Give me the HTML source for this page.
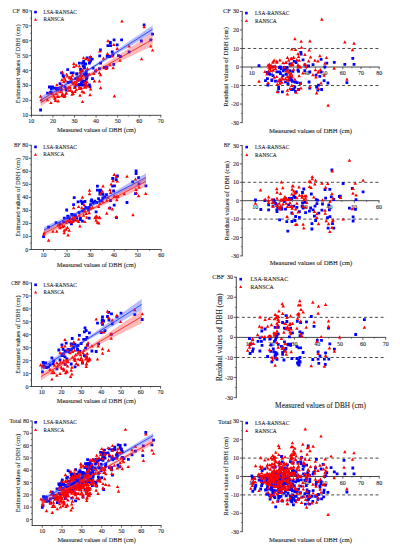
<!DOCTYPE html>
<html><head><meta charset="utf-8"><style>
html,body{margin:0;padding:0;background:#fff;}
svg{display:block;}
text{font-family:"Liberation Serif", serif;fill:#262626;stroke:#262626;stroke-width:0.1px;}
</style></head><body>
<svg width="400" height="550" viewBox="0 0 400 550">
<rect width="400" height="550" fill="#fff"/>
<line x1="40.75" y1="100.25" x2="152.60" y2="29.20" stroke="#2035ff" stroke-width="0.9" /><line x1="40.75" y1="102.50" x2="152.60" y2="39.40" stroke="#ff1a1a" stroke-width="0.9" /><path fill="#0000ff" d="M39.2 108.6h2.8v2.8h-2.8zM66.3 68.3h2.8v2.8h-2.8zM60.2 71.5h2.8v2.8h-2.8zM61.7 74.2h2.8v2.8h-2.8zM62.4 75.5h2.8v2.8h-2.8zM69.8 71.5h2.8v2.8h-2.8zM71.7 71.5h2.8v2.8h-2.8zM75.5 72.3h2.8v2.8h-2.8zM78.0 61.7h2.8v2.8h-2.8zM79.2 68.0h2.8v2.8h-2.8zM49.5 85.5h2.8v2.8h-2.8zM51.1 85.5h2.8v2.8h-2.8zM53.0 86.7h2.8v2.8h-2.8zM54.9 87.1h2.8v2.8h-2.8zM56.7 88.0h2.8v2.8h-2.8zM46.1 91.7h2.8v2.8h-2.8zM49.2 90.8h2.8v2.8h-2.8zM63.6 85.5h2.8v2.8h-2.8zM64.8 88.6h2.8v2.8h-2.8zM66.7 81.1h2.8v2.8h-2.8zM69.2 80.5h2.8v2.8h-2.8zM72.3 82.3h2.8v2.8h-2.8zM73.6 85.5h2.8v2.8h-2.8zM76.1 83.6h2.8v2.8h-2.8zM78.0 83.0h2.8v2.8h-2.8zM74.2 77.3h2.8v2.8h-2.8zM76.7 78.6h2.8v2.8h-2.8zM58.6 82.3h2.8v2.8h-2.8zM56.1 88.6h2.8v2.8h-2.8zM59.9 88.6h2.8v2.8h-2.8zM79.2 78.6h2.8v2.8h-2.8zM89.2 59.2h2.8v2.8h-2.8zM84.2 62.4h2.8v2.8h-2.8zM81.1 61.7h2.8v2.8h-2.8zM81.7 64.8h2.8v2.8h-2.8zM83.0 66.1h2.8v2.8h-2.8zM88.0 61.7h2.8v2.8h-2.8zM99.2 61.7h2.8v2.8h-2.8zM103.0 66.1h2.8v2.8h-2.8zM105.5 66.1h2.8v2.8h-2.8zM112.3 63.0h2.8v2.8h-2.8zM98.0 67.3h2.8v2.8h-2.8zM91.7 66.7h2.8v2.8h-2.8zM94.2 69.8h2.8v2.8h-2.8zM84.8 71.7h2.8v2.8h-2.8zM83.0 73.0h2.8v2.8h-2.8zM86.1 73.6h2.8v2.8h-2.8zM79.8 68.6h2.8v2.8h-2.8zM91.1 77.3h2.8v2.8h-2.8zM82.3 80.5h2.8v2.8h-2.8zM80.5 83.6h2.8v2.8h-2.8zM88.0 83.6h2.8v2.8h-2.8zM88.6 85.5h2.8v2.8h-2.8zM85.5 76.1h2.8v2.8h-2.8zM83.6 83.6h2.8v2.8h-2.8zM112.7 38.4h2.8v2.8h-2.8zM120.2 38.4h2.8v2.8h-2.8zM109.0 41.1h2.8v2.8h-2.8zM106.5 44.2h2.8v2.8h-2.8zM109.2 44.2h2.8v2.8h-2.8zM115.8 43.4h2.8v2.8h-2.8zM99.0 48.6h2.8v2.8h-2.8zM110.8 50.5h2.8v2.8h-2.8zM98.3 54.5h2.8v2.8h-2.8zM105.8 54.9h2.8v2.8h-2.8zM111.5 53.6h2.8v2.8h-2.8zM127.7 50.5h2.8v2.8h-2.8zM117.1 54.2h2.8v2.8h-2.8zM119.0 55.1h2.8v2.8h-2.8zM85.8 56.4h2.8v2.8h-2.8zM89.0 55.9h2.8v2.8h-2.8zM108.3 55.1h2.8v2.8h-2.8zM142.7 23.4h2.8v2.8h-2.8zM151.1 32.7h2.8v2.8h-2.8zM140.0 39.6h2.8v2.8h-2.8zM149.4 38.5h2.8v2.8h-2.8zM75.2 72.7h2.8v2.8h-2.8zM80.6 69.4h2.8v2.8h-2.8zM48.0 85.6h2.8v2.8h-2.8zM50.0 87.5h2.8v2.8h-2.8zM56.4 87.6h2.8v2.8h-2.8zM55.7 88.8h2.8v2.8h-2.8zM50.0 91.6h2.8v2.8h-2.8zM64.8 87.6h2.8v2.8h-2.8zM74.1 81.4h2.8v2.8h-2.8zM79.9 82.1h2.8v2.8h-2.8zM76.0 76.5h2.8v2.8h-2.8zM76.4 76.7h2.8v2.8h-2.8zM57.6 87.1h2.8v2.8h-2.8zM59.5 86.6h2.8v2.8h-2.8zM80.6 79.3h2.8v2.8h-2.8zM90.8 57.7h2.8v2.8h-2.8zM83.6 62.8h2.8v2.8h-2.8zM82.3 59.9h2.8v2.8h-2.8zM83.1 66.8h2.8v2.8h-2.8zM82.6 65.0h2.8v2.8h-2.8zM88.5 60.3h2.8v2.8h-2.8zM84.7 70.2h2.8v2.8h-2.8zM84.4 74.2h2.8v2.8h-2.8zM79.2 68.3h2.8v2.8h-2.8zM83.3 79.8h2.8v2.8h-2.8zM78.7 83.4h2.8v2.8h-2.8zM85.0 77.7h2.8v2.8h-2.8zM82.5 83.7h2.8v2.8h-2.8z"/><path fill="#ff0000" d="M40.6 94.6l1.75 3.15h-3.50zM41.2 98.0l1.75 3.15h-3.50zM50.9 100.9l1.75 3.15h-3.50zM47.5 98.0l1.75 3.15h-3.50zM49.4 91.1l1.75 3.15h-3.50zM52.5 91.8l1.75 3.15h-3.50zM53.8 94.3l1.75 3.15h-3.50zM55.0 97.0l1.75 3.15h-3.50zM58.1 99.3l1.75 3.15h-3.50zM56.2 91.8l1.75 3.15h-3.50zM58.8 94.9l1.75 3.15h-3.50zM60.6 89.9l1.75 3.15h-3.50zM62.5 91.8l1.75 3.15h-3.50zM64.4 94.9l1.75 3.15h-3.50zM65.0 93.6l1.75 3.15h-3.50zM66.2 91.1l1.75 3.15h-3.50zM68.8 88.6l1.75 3.15h-3.50zM70.0 85.5l1.75 3.15h-3.50zM72.5 89.9l1.75 3.15h-3.50zM73.1 91.8l1.75 3.15h-3.50zM75.0 89.9l1.75 3.15h-3.50zM76.2 88.0l1.75 3.15h-3.50zM79.4 84.9l1.75 3.15h-3.50zM80.6 86.8l1.75 3.15h-3.50zM80.0 93.6l1.75 3.15h-3.50zM61.9 78.0l1.75 3.15h-3.50zM63.8 79.9l1.75 3.15h-3.50zM65.6 78.6l1.75 3.15h-3.50zM62.5 70.5l1.75 3.15h-3.50zM67.5 74.3l1.75 3.15h-3.50zM69.4 76.1l1.75 3.15h-3.50zM71.2 76.8l1.75 3.15h-3.50zM72.5 73.6l1.75 3.15h-3.50zM72.5 80.5l1.75 3.15h-3.50zM74.4 82.4l1.75 3.15h-3.50zM76.2 79.9l1.75 3.15h-3.50zM77.5 75.5l1.75 3.15h-3.50zM78.8 77.4l1.75 3.15h-3.50zM80.0 70.5l1.75 3.15h-3.50zM80.6 73.0l1.75 3.15h-3.50zM73.8 61.8l1.75 3.15h-3.50zM76.2 63.6l1.75 3.15h-3.50zM73.8 64.9l1.75 3.15h-3.50zM79.4 64.3l1.75 3.15h-3.50zM60.0 85.5l1.75 3.15h-3.50zM61.9 83.0l1.75 3.15h-3.50zM56.9 83.0l1.75 3.15h-3.50zM88.8 58.0l1.75 3.15h-3.50zM120.0 58.6l1.75 3.15h-3.50zM113.1 66.1l1.75 3.15h-3.50zM106.2 66.8l1.75 3.15h-3.50zM110.0 63.0l1.75 3.15h-3.50zM99.4 71.1l1.75 3.15h-3.50zM100.6 73.0l1.75 3.15h-3.50zM96.2 68.0l1.75 3.15h-3.50zM93.8 71.8l1.75 3.15h-3.50zM87.5 66.8l1.75 3.15h-3.50zM89.4 72.4l1.75 3.15h-3.50zM81.2 70.5l1.75 3.15h-3.50zM82.5 74.3l1.75 3.15h-3.50zM81.2 76.1l1.75 3.15h-3.50zM86.9 79.9l1.75 3.15h-3.50zM94.4 79.3l1.75 3.15h-3.50zM99.4 79.3l1.75 3.15h-3.50zM85.6 83.0l1.75 3.15h-3.50zM87.5 84.3l1.75 3.15h-3.50zM85.6 85.5l1.75 3.15h-3.50zM90.6 87.4l1.75 3.15h-3.50zM81.2 86.1l1.75 3.15h-3.50zM100.6 86.1l1.75 3.15h-3.50zM83.8 90.5l1.75 3.15h-3.50zM90.0 93.0l1.75 3.15h-3.50zM114.4 94.3l1.75 3.15h-3.50zM82.5 99.9l1.75 3.15h-3.50zM107.9 39.0l1.75 3.15h-3.50zM113.8 42.8l1.75 3.15h-3.50zM117.2 46.8l1.75 3.15h-3.50zM99.8 49.3l1.75 3.15h-3.50zM107.5 51.8l1.75 3.15h-3.50zM129.1 44.3l1.75 3.15h-3.50zM90.4 54.9l1.75 3.15h-3.50zM83.5 56.1l1.75 3.15h-3.50zM86.0 57.0l1.75 3.15h-3.50zM103.5 56.5l1.75 3.15h-3.50zM112.2 54.3l1.75 3.15h-3.50zM144.1 25.0l1.75 3.15h-3.50zM150.8 44.4l1.75 3.15h-3.50zM152.5 48.4l1.75 3.15h-3.50zM141.6 57.2l1.75 3.15h-3.50zM121.9 19.4l1.75 3.15h-3.50zM54.9 96.1l1.75 3.15h-3.50zM55.6 98.8l1.75 3.15h-3.50zM57.3 94.6l1.75 3.15h-3.50zM61.7 93.8l1.75 3.15h-3.50zM63.1 94.1l1.75 3.15h-3.50zM65.9 91.7l1.75 3.15h-3.50zM68.2 85.9l1.75 3.15h-3.50zM70.7 88.6l1.75 3.15h-3.50zM72.1 92.6l1.75 3.15h-3.50zM74.6 85.9l1.75 3.15h-3.50zM64.4 76.5l1.75 3.15h-3.50zM66.6 72.7l1.75 3.15h-3.50zM69.8 75.9l1.75 3.15h-3.50zM71.9 77.0l1.75 3.15h-3.50zM71.0 75.5l1.75 3.15h-3.50zM76.6 82.8l1.75 3.15h-3.50zM74.6 80.4l1.75 3.15h-3.50zM77.2 77.7l1.75 3.15h-3.50zM81.7 68.4l1.75 3.15h-3.50zM79.8 74.1l1.75 3.15h-3.50zM82.4 68.6l1.75 3.15h-3.50zM80.8 74.1l1.75 3.15h-3.50zM79.4 77.2l1.75 3.15h-3.50zM84.5 81.2l1.75 3.15h-3.50zM86.6 82.3l1.75 3.15h-3.50zM84.4 85.6l1.75 3.15h-3.50zM79.2 86.9l1.75 3.15h-3.50zM82.1 89.7l1.75 3.15h-3.50z"/><path d="M40.75 96.65L45.41 93.96L50.07 91.26L54.73 88.56L59.39 85.85L64.05 83.13L68.71 80.40L73.37 77.65L78.03 74.87L82.69 72.06L87.35 69.20L92.01 66.28L96.67 63.31L101.34 60.27L106.00 57.19L110.66 54.06L115.32 50.91L119.98 47.73L124.64 44.54L129.30 41.33L133.96 38.12L138.62 34.89L143.28 31.67L147.94 28.43L152.60 25.20L152.60 33.20L147.94 35.89L143.28 38.58L138.62 41.27L133.96 43.97L129.30 46.67L124.64 49.39L119.98 52.11L115.32 54.86L110.66 57.62L106.00 60.42L101.34 63.25L96.67 66.14L92.01 69.09L87.35 72.09L82.69 75.16L78.03 78.27L73.37 81.41L68.71 84.58L64.05 87.76L59.39 90.97L54.73 94.18L50.07 97.40L45.41 100.62L40.75 103.85Z" fill="rgba(60,75,255,0.38)"/><path d="M40.75 98.70L45.41 96.43L50.07 94.16L54.73 91.87L59.39 89.56L64.05 87.22L68.71 84.83L73.37 82.39L78.03 79.85L82.69 77.22L87.35 74.49L92.01 71.68L96.67 68.81L101.34 65.89L106.00 62.94L110.66 59.97L115.32 56.99L119.98 53.99L124.64 50.99L129.30 47.99L133.96 44.97L138.62 41.96L143.28 38.94L147.94 35.92L152.60 32.90L152.60 45.90L147.94 48.14L143.28 50.37L138.62 52.62L133.96 54.86L129.30 57.11L124.64 59.36L119.98 61.61L115.32 63.88L110.66 66.15L106.00 68.44L101.34 70.75L96.67 73.09L92.01 75.48L87.35 77.92L82.69 80.45L78.03 83.08L73.37 85.81L68.71 88.62L64.05 91.49L59.39 94.41L54.73 97.36L50.07 100.32L45.41 103.31L40.75 106.30Z" fill="rgba(255,60,60,0.36)"/><line x1="31.45" y1="10.50" x2="31.45" y2="115.75" stroke="#333" stroke-width="0.9" /><line x1="31.00" y1="115.30" x2="161.20" y2="115.30" stroke="#333" stroke-width="0.9" /><line x1="29.25" y1="115.30" x2="31.45" y2="115.30" stroke="#333" stroke-width="0.8" /><text x="28.35" y="117.30" font-size="6.0" text-anchor="end" >10</text><line x1="29.25" y1="100.39" x2="31.45" y2="100.39" stroke="#333" stroke-width="0.8" /><text x="28.35" y="102.39" font-size="6.0" text-anchor="end" >20</text><line x1="29.25" y1="85.47" x2="31.45" y2="85.47" stroke="#333" stroke-width="0.8" /><text x="28.35" y="87.47" font-size="6.0" text-anchor="end" >30</text><line x1="29.25" y1="70.56" x2="31.45" y2="70.56" stroke="#333" stroke-width="0.8" /><text x="28.35" y="72.56" font-size="6.0" text-anchor="end" >40</text><line x1="29.25" y1="55.64" x2="31.45" y2="55.64" stroke="#333" stroke-width="0.8" /><text x="28.35" y="57.64" font-size="6.0" text-anchor="end" >50</text><line x1="29.25" y1="40.73" x2="31.45" y2="40.73" stroke="#333" stroke-width="0.8" /><text x="28.35" y="42.73" font-size="6.0" text-anchor="end" >60</text><line x1="29.25" y1="25.81" x2="31.45" y2="25.81" stroke="#333" stroke-width="0.8" /><text x="28.35" y="27.81" font-size="6.0" text-anchor="end" >70</text><line x1="29.25" y1="10.90" x2="31.45" y2="10.90" stroke="#333" stroke-width="0.8" /><text x="28.35" y="12.90" font-size="6.0" text-anchor="end" >80</text><line x1="30.15" y1="107.84" x2="31.45" y2="107.84" stroke="#333" stroke-width="0.6" /><line x1="30.15" y1="92.93" x2="31.45" y2="92.93" stroke="#333" stroke-width="0.6" /><line x1="30.15" y1="78.01" x2="31.45" y2="78.01" stroke="#333" stroke-width="0.6" /><line x1="30.15" y1="63.10" x2="31.45" y2="63.10" stroke="#333" stroke-width="0.6" /><line x1="30.15" y1="48.19" x2="31.45" y2="48.19" stroke="#333" stroke-width="0.6" /><line x1="30.15" y1="33.27" x2="31.45" y2="33.27" stroke="#333" stroke-width="0.6" /><line x1="30.15" y1="18.36" x2="31.45" y2="18.36" stroke="#333" stroke-width="0.6" /><line x1="31.35" y1="115.30" x2="31.35" y2="117.50" stroke="#333" stroke-width="0.8" /><text x="31.35" y="122.70" font-size="6.0" text-anchor="middle" >10</text><line x1="52.93" y1="115.30" x2="52.93" y2="117.50" stroke="#333" stroke-width="0.8" /><text x="52.93" y="122.70" font-size="6.0" text-anchor="middle" >20</text><line x1="74.50" y1="115.30" x2="74.50" y2="117.50" stroke="#333" stroke-width="0.8" /><text x="74.50" y="122.70" font-size="6.0" text-anchor="middle" >30</text><line x1="96.08" y1="115.30" x2="96.08" y2="117.50" stroke="#333" stroke-width="0.8" /><text x="96.08" y="122.70" font-size="6.0" text-anchor="middle" >40</text><line x1="117.65" y1="115.30" x2="117.65" y2="117.50" stroke="#333" stroke-width="0.8" /><text x="117.65" y="122.70" font-size="6.0" text-anchor="middle" >50</text><line x1="139.23" y1="115.30" x2="139.23" y2="117.50" stroke="#333" stroke-width="0.8" /><text x="139.23" y="122.70" font-size="6.0" text-anchor="middle" >60</text><line x1="160.80" y1="115.30" x2="160.80" y2="117.50" stroke="#333" stroke-width="0.8" /><text x="160.80" y="122.70" font-size="6.0" text-anchor="middle" >70</text><line x1="42.14" y1="115.30" x2="42.14" y2="116.60" stroke="#333" stroke-width="0.6" /><line x1="63.71" y1="115.30" x2="63.71" y2="116.60" stroke="#333" stroke-width="0.6" /><line x1="85.29" y1="115.30" x2="85.29" y2="116.60" stroke="#333" stroke-width="0.6" /><line x1="106.86" y1="115.30" x2="106.86" y2="116.60" stroke="#333" stroke-width="0.6" /><line x1="128.44" y1="115.30" x2="128.44" y2="116.60" stroke="#333" stroke-width="0.6" /><line x1="150.01" y1="115.30" x2="150.01" y2="116.60" stroke="#333" stroke-width="0.6" /><text x="0" y="0" font-size="6.6" text-anchor="middle" textLength="78.8" lengthAdjust="spacingAndGlyphs" transform="translate(19.7,63.75) rotate(-90)">Estimated values of DBH (cm)</text><text x="96.40" y="132.20" font-size="7.1" text-anchor="middle" textLength="79" lengthAdjust="spacingAndGlyphs" >Measured values of DBH (cm)</text><text x="19.90" y="13.30" font-size="6.4" text-anchor="end" textLength="7.4" lengthAdjust="spacingAndGlyphs" >CF</text><path fill="#0000ff" d="M34.2 10.8h2.6v2.6h-2.6z"/><path fill="#ff0000" d="M35.5 17.9l1.55 2.79h-3.10z"/><text x="43.50" y="13.95" font-size="5.3" text-anchor="start" textLength="33.3" lengthAdjust="spacingAndGlyphs" >LSA-RANSAC</text><text x="43.50" y="21.45" font-size="5.3" text-anchor="start" textLength="20.7" lengthAdjust="spacingAndGlyphs" >RANSCA</text><line x1="242.20" y1="48.47" x2="379.80" y2="48.47" stroke="#4a4a4a" stroke-width="1.0" stroke-dasharray="3 2.55"/><line x1="242.20" y1="85.53" x2="379.80" y2="85.53" stroke="#4a4a4a" stroke-width="1.0" stroke-dasharray="3 2.55"/><line x1="242.20" y1="11.00" x2="242.20" y2="123.00" stroke="#333" stroke-width="0.9" /><line x1="242.20" y1="67.00" x2="379.60" y2="67.00" stroke="#333" stroke-width="0.9" /><line x1="240.00" y1="11.40" x2="242.20" y2="11.40" stroke="#333" stroke-width="0.8" /><text x="239.00" y="13.45" font-size="6.0" text-anchor="end" >30</text><line x1="240.00" y1="29.93" x2="242.20" y2="29.93" stroke="#333" stroke-width="0.8" /><text x="239.00" y="31.98" font-size="6.0" text-anchor="end" >20</text><line x1="240.00" y1="48.47" x2="242.20" y2="48.47" stroke="#333" stroke-width="0.8" /><text x="239.00" y="50.52" font-size="6.0" text-anchor="end" >10</text><line x1="240.00" y1="67.00" x2="242.20" y2="67.00" stroke="#333" stroke-width="0.8" /><text x="239.00" y="69.05" font-size="6.0" text-anchor="end" >0</text><line x1="240.00" y1="85.53" x2="242.20" y2="85.53" stroke="#333" stroke-width="0.8" /><text x="239.00" y="87.58" font-size="6.0" text-anchor="end" >-10</text><line x1="240.00" y1="104.07" x2="242.20" y2="104.07" stroke="#333" stroke-width="0.8" /><text x="239.00" y="106.12" font-size="6.0" text-anchor="end" >-20</text><line x1="240.00" y1="122.60" x2="242.20" y2="122.60" stroke="#333" stroke-width="0.8" /><text x="239.00" y="124.65" font-size="6.0" text-anchor="end" >-30</text><line x1="240.90" y1="20.67" x2="242.20" y2="20.67" stroke="#333" stroke-width="0.6" /><line x1="240.90" y1="39.20" x2="242.20" y2="39.20" stroke="#333" stroke-width="0.6" /><line x1="240.90" y1="57.73" x2="242.20" y2="57.73" stroke="#333" stroke-width="0.6" /><line x1="240.90" y1="76.27" x2="242.20" y2="76.27" stroke="#333" stroke-width="0.6" /><line x1="240.90" y1="94.80" x2="242.20" y2="94.80" stroke="#333" stroke-width="0.6" /><line x1="240.90" y1="113.33" x2="242.20" y2="113.33" stroke="#333" stroke-width="0.6" /><line x1="251.80" y1="67.00" x2="251.80" y2="69.20" stroke="#333" stroke-width="0.8" /><text x="251.80" y="75.10" font-size="6.0" text-anchor="middle" >10</text><line x1="270.00" y1="67.00" x2="270.00" y2="69.20" stroke="#333" stroke-width="0.8" /><text x="270.00" y="75.10" font-size="6.0" text-anchor="middle" >20</text><line x1="288.20" y1="67.00" x2="288.20" y2="69.20" stroke="#333" stroke-width="0.8" /><text x="288.20" y="75.10" font-size="6.0" text-anchor="middle" >30</text><line x1="306.40" y1="67.00" x2="306.40" y2="69.20" stroke="#333" stroke-width="0.8" /><text x="306.40" y="75.10" font-size="6.0" text-anchor="middle" >40</text><line x1="324.60" y1="67.00" x2="324.60" y2="69.20" stroke="#333" stroke-width="0.8" /><text x="324.60" y="75.10" font-size="6.0" text-anchor="middle" >50</text><line x1="342.80" y1="67.00" x2="342.80" y2="69.20" stroke="#333" stroke-width="0.8" /><text x="342.80" y="75.10" font-size="6.0" text-anchor="middle" >60</text><line x1="361.00" y1="67.00" x2="361.00" y2="69.20" stroke="#333" stroke-width="0.8" /><text x="361.00" y="75.10" font-size="6.0" text-anchor="middle" >70</text><line x1="379.20" y1="67.00" x2="379.20" y2="69.20" stroke="#333" stroke-width="0.8" /><text x="379.20" y="75.10" font-size="6.0" text-anchor="middle" >80</text><line x1="260.90" y1="67.00" x2="260.90" y2="68.30" stroke="#333" stroke-width="0.6" /><line x1="279.10" y1="67.00" x2="279.10" y2="68.30" stroke="#333" stroke-width="0.6" /><line x1="297.30" y1="67.00" x2="297.30" y2="68.30" stroke="#333" stroke-width="0.6" /><line x1="315.50" y1="67.00" x2="315.50" y2="68.30" stroke="#333" stroke-width="0.6" /><line x1="333.70" y1="67.00" x2="333.70" y2="68.30" stroke="#333" stroke-width="0.6" /><line x1="351.90" y1="67.00" x2="351.90" y2="68.30" stroke="#333" stroke-width="0.6" /><line x1="370.10" y1="67.00" x2="370.10" y2="68.30" stroke="#333" stroke-width="0.6" /><path fill="#0000ff" d="M257.6 64.2h2.8v2.8h-2.8zM271.6 65.5h2.8v2.8h-2.8zM279.1 65.5h2.8v2.8h-2.8zM282.9 66.1h2.8v2.8h-2.8zM285.4 66.1h2.8v2.8h-2.8zM288.5 62.6h2.8v2.8h-2.8zM266.0 77.3h2.8v2.8h-2.8zM264.1 79.2h2.8v2.8h-2.8zM271.6 74.2h2.8v2.8h-2.8zM270.4 78.6h2.8v2.8h-2.8zM275.4 70.5h2.8v2.8h-2.8zM279.1 72.3h2.8v2.8h-2.8zM281.6 74.2h2.8v2.8h-2.8zM284.7 73.0h2.8v2.8h-2.8zM277.9 66.1h2.8v2.8h-2.8zM279.7 67.3h2.8v2.8h-2.8zM285.4 67.3h2.8v2.8h-2.8zM288.5 69.2h2.8v2.8h-2.8zM289.1 76.1h2.8v2.8h-2.8zM290.4 78.6h2.8v2.8h-2.8zM279.1 79.2h2.8v2.8h-2.8zM274.1 79.8h2.8v2.8h-2.8zM284.1 80.5h2.8v2.8h-2.8zM286.6 82.3h2.8v2.8h-2.8zM266.6 83.6h2.8v2.8h-2.8zM277.2 85.5h2.8v2.8h-2.8zM277.2 87.3h2.8v2.8h-2.8zM276.6 90.5h2.8v2.8h-2.8zM281.0 90.5h2.8v2.8h-2.8zM289.7 88.0h2.8v2.8h-2.8zM272.9 65.5h2.8v2.8h-2.8zM268.5 73.0h2.8v2.8h-2.8zM266.0 71.1h2.8v2.8h-2.8zM299.4 50.9h2.8v2.8h-2.8zM299.7 52.6h2.8v2.8h-2.8zM301.6 58.4h2.8v2.8h-2.8zM319.7 58.0h2.8v2.8h-2.8zM311.6 63.2h2.8v2.8h-2.8zM307.2 64.8h2.8v2.8h-2.8zM325.4 61.7h2.8v2.8h-2.8zM332.9 60.9h2.8v2.8h-2.8zM323.5 65.5h2.8v2.8h-2.8zM292.9 59.9h2.8v2.8h-2.8zM294.7 61.1h2.8v2.8h-2.8zM297.2 65.5h2.8v2.8h-2.8zM303.5 63.6h2.8v2.8h-2.8zM343.4 63.0h2.8v2.8h-2.8zM351.4 57.0h2.8v2.8h-2.8zM352.6 63.0h2.8v2.8h-2.8zM291.5 70.0h2.8v2.8h-2.8zM296.5 68.7h2.8v2.8h-2.8zM297.1 70.0h2.8v2.8h-2.8zM303.4 69.3h2.8v2.8h-2.8zM308.4 70.6h2.8v2.8h-2.8zM314.6 73.7h2.8v2.8h-2.8zM318.4 75.0h2.8v2.8h-2.8zM319.6 70.6h2.8v2.8h-2.8zM323.4 65.6h2.8v2.8h-2.8zM322.7 79.3h2.8v2.8h-2.8zM326.5 81.6h2.8v2.8h-2.8zM307.7 80.6h2.8v2.8h-2.8zM290.9 80.0h2.8v2.8h-2.8zM293.4 80.6h2.8v2.8h-2.8zM295.9 81.2h2.8v2.8h-2.8zM299.0 81.8h2.8v2.8h-2.8zM293.4 85.6h2.8v2.8h-2.8zM290.9 88.1h2.8v2.8h-2.8zM297.1 88.1h2.8v2.8h-2.8zM308.4 86.8h2.8v2.8h-2.8zM315.2 85.6h2.8v2.8h-2.8zM316.5 88.7h2.8v2.8h-2.8zM320.2 88.1h2.8v2.8h-2.8zM317.1 83.7h2.8v2.8h-2.8zM294.0 90.0h2.8v2.8h-2.8zM345.5 81.2h2.8v2.8h-2.8zM283.1 68.0h2.8v2.8h-2.8zM285.4 66.5h2.8v2.8h-2.8zM270.4 79.2h2.8v2.8h-2.8zM278.2 70.5h2.8v2.8h-2.8zM281.8 69.4h2.8v2.8h-2.8zM288.2 78.7h2.8v2.8h-2.8zM267.1 71.9h2.8v2.8h-2.8zM307.0 64.6h2.8v2.8h-2.8zM294.0 80.6h2.8v2.8h-2.8zM292.4 87.8h2.8v2.8h-2.8z"/><path fill="#ff0000" d="M291.8 47.4l1.75 3.15h-3.50zM287.4 55.8l1.75 3.15h-3.50zM291.1 56.5l1.75 3.15h-3.50zM279.9 58.3l1.75 3.15h-3.50zM274.2 58.6l1.75 3.15h-3.50zM273.0 60.5l1.75 3.15h-3.50zM276.8 60.5l1.75 3.15h-3.50zM283.0 61.1l1.75 3.15h-3.50zM286.1 60.5l1.75 3.15h-3.50zM268.0 63.6l1.75 3.15h-3.50zM271.1 63.6l1.75 3.15h-3.50zM269.9 64.9l1.75 3.15h-3.50zM275.5 64.3l1.75 3.15h-3.50zM288.6 58.6l1.75 3.15h-3.50zM292.4 61.8l1.75 3.15h-3.50zM259.0 79.5l1.75 3.15h-3.50zM264.9 69.9l1.75 3.15h-3.50zM266.8 72.4l1.75 3.15h-3.50zM268.6 69.3l1.75 3.15h-3.50zM269.9 66.8l1.75 3.15h-3.50zM271.8 65.5l1.75 3.15h-3.50zM273.0 68.6l1.75 3.15h-3.50zM275.5 66.8l1.75 3.15h-3.50zM274.2 75.5l1.75 3.15h-3.50zM276.8 74.9l1.75 3.15h-3.50zM278.0 79.3l1.75 3.15h-3.50zM279.9 78.0l1.75 3.15h-3.50zM281.8 75.5l1.75 3.15h-3.50zM283.0 77.4l1.75 3.15h-3.50zM285.5 76.8l1.75 3.15h-3.50zM287.4 78.6l1.75 3.15h-3.50zM284.2 65.5l1.75 3.15h-3.50zM286.1 69.3l1.75 3.15h-3.50zM289.2 70.5l1.75 3.15h-3.50zM291.1 71.8l1.75 3.15h-3.50zM288.0 74.9l1.75 3.15h-3.50zM290.5 63.6l1.75 3.15h-3.50zM268.0 81.1l1.75 3.15h-3.50zM277.4 82.4l1.75 3.15h-3.50zM291.8 83.6l1.75 3.15h-3.50zM289.9 86.8l1.75 3.15h-3.50zM287.4 88.6l1.75 3.15h-3.50zM287.4 92.4l1.75 3.15h-3.50zM277.4 89.9l1.75 3.15h-3.50zM281.8 80.5l1.75 3.15h-3.50zM321.8 17.5l1.75 3.15h-3.50zM294.9 37.0l1.75 3.15h-3.50zM301.1 39.5l1.75 3.15h-3.50zM309.9 39.3l1.75 3.15h-3.50zM301.5 45.5l1.75 3.15h-3.50zM295.5 47.8l1.75 3.15h-3.50zM309.2 48.3l1.75 3.15h-3.50zM298.0 52.0l1.75 3.15h-3.50zM304.9 52.8l1.75 3.15h-3.50zM298.6 54.9l1.75 3.15h-3.50zM293.6 55.5l1.75 3.15h-3.50zM310.5 55.3l1.75 3.15h-3.50zM319.9 54.0l1.75 3.15h-3.50zM326.5 55.9l1.75 3.15h-3.50zM296.8 58.0l1.75 3.15h-3.50zM299.2 58.6l1.75 3.15h-3.50zM308.6 59.3l1.75 3.15h-3.50zM314.9 58.6l1.75 3.15h-3.50zM318.0 59.3l1.75 3.15h-3.50zM324.9 61.5l1.75 3.15h-3.50zM304.9 62.4l1.75 3.15h-3.50zM298.0 63.0l1.75 3.15h-3.50zM306.1 64.9l1.75 3.15h-3.50zM334.2 66.5l1.75 3.15h-3.50zM300.5 65.3l1.75 3.15h-3.50zM344.8 40.3l1.75 3.15h-3.50zM354.0 41.5l1.75 3.15h-3.50zM352.5 48.0l1.75 3.15h-3.50zM293.5 67.5l1.75 3.15h-3.50zM298.5 65.0l1.75 3.15h-3.50zM306.0 65.0l1.75 3.15h-3.50zM315.4 68.1l1.75 3.15h-3.50zM320.4 68.1l1.75 3.15h-3.50zM302.9 71.3l1.75 3.15h-3.50zM312.9 73.1l1.75 3.15h-3.50zM317.9 70.6l1.75 3.15h-3.50zM324.1 73.5l1.75 3.15h-3.50zM316.0 75.3l1.75 3.15h-3.50zM299.1 74.0l1.75 3.15h-3.50zM291.6 72.5l1.75 3.15h-3.50zM292.2 75.0l1.75 3.15h-3.50zM294.8 77.5l1.75 3.15h-3.50zM300.4 81.9l1.75 3.15h-3.50zM291.6 83.8l1.75 3.15h-3.50zM309.8 85.0l1.75 3.15h-3.50zM321.0 81.3l1.75 3.15h-3.50zM318.5 86.9l1.75 3.15h-3.50zM301.0 86.3l1.75 3.15h-3.50zM297.9 87.5l1.75 3.15h-3.50zM296.0 90.6l1.75 3.15h-3.50zM316.6 91.3l1.75 3.15h-3.50zM328.1 103.5l1.75 3.15h-3.50zM346.9 77.5l1.75 3.15h-3.50zM291.9 57.1l1.75 3.15h-3.50zM273.0 59.9l1.75 3.15h-3.50zM276.8 59.4l1.75 3.15h-3.50zM285.5 60.9l1.75 3.15h-3.50zM269.3 62.5l1.75 3.15h-3.50zM269.1 65.8l1.75 3.15h-3.50zM291.6 61.8l1.75 3.15h-3.50zM270.6 68.7l1.75 3.15h-3.50zM271.3 65.1l1.75 3.15h-3.50zM273.2 68.0l1.75 3.15h-3.50zM274.1 64.8l1.75 3.15h-3.50zM279.2 78.0l1.75 3.15h-3.50zM288.4 77.0l1.75 3.15h-3.50zM287.5 68.0l1.75 3.15h-3.50zM287.4 74.7l1.75 3.15h-3.50zM292.7 63.1l1.75 3.15h-3.50zM280.0 81.5l1.75 3.15h-3.50zM293.6 55.8l1.75 3.15h-3.50zM305.4 62.7l1.75 3.15h-3.50zM299.0 64.6l1.75 3.15h-3.50zM318.3 69.8l1.75 3.15h-3.50zM289.7 73.9l1.75 3.15h-3.50z"/><text x="0" y="0" font-size="6.60" text-anchor="middle" textLength="79.8" lengthAdjust="spacingAndGlyphs" transform="translate(227.5,66.9) rotate(-90)">Residual values of DBH (cm)</text><text x="310.60" y="132.70" font-size="7.1" text-anchor="middle" textLength="83" lengthAdjust="spacingAndGlyphs" >Measured values of DBH (cm)</text><text x="230.90" y="13.40" font-size="6.4" text-anchor="end" textLength="8.0" lengthAdjust="spacingAndGlyphs" >CF</text><path fill="#0000ff" d="M245.1 11.8h2.6v2.6h-2.6z"/><path fill="#ff0000" d="M246.4 19.3l1.55 2.79h-3.10z"/><text x="255.00" y="14.95" font-size="5.3" text-anchor="start" textLength="34.5" lengthAdjust="spacingAndGlyphs" >LSA-RANSAC</text><text x="255.00" y="22.85" font-size="5.3" text-anchor="start" textLength="21.7" lengthAdjust="spacingAndGlyphs" >RANSCA</text><line x1="44.00" y1="230.00" x2="146.00" y2="177.50" stroke="#2035ff" stroke-width="0.9" /><line x1="44.00" y1="233.40" x2="146.00" y2="181.50" stroke="#ff1a1a" stroke-width="0.9" /><path fill="#0000ff" d="M42.2 235.2h2.8v2.8h-2.8zM47.2 225.8h2.8v2.8h-2.8zM54.7 221.3h2.8v2.8h-2.8zM58.5 222.6h2.8v2.8h-2.8zM62.2 220.5h2.8v2.8h-2.8zM62.9 216.7h2.8v2.8h-2.8zM65.3 208.6h2.8v2.8h-2.8zM66.6 214.8h2.8v2.8h-2.8zM68.5 217.3h2.8v2.8h-2.8zM70.3 213.0h2.8v2.8h-2.8zM72.2 213.6h2.8v2.8h-2.8zM74.1 214.2h2.8v2.8h-2.8zM72.8 196.3h2.8v2.8h-2.8zM72.2 203.3h2.8v2.8h-2.8zM76.6 200.5h2.8v2.8h-2.8zM79.7 199.8h2.8v2.8h-2.8zM83.5 200.1h2.8v2.8h-2.8zM81.0 202.3h2.8v2.8h-2.8zM77.8 211.1h2.8v2.8h-2.8zM81.0 209.8h2.8v2.8h-2.8zM82.8 208.0h2.8v2.8h-2.8zM85.3 206.7h2.8v2.8h-2.8zM79.1 216.7h2.8v2.8h-2.8zM81.0 219.8h2.8v2.8h-2.8zM75.3 216.7h2.8v2.8h-2.8zM71.6 218.0h2.8v2.8h-2.8zM67.8 220.5h2.8v2.8h-2.8zM66.6 216.7h2.8v2.8h-2.8zM89.7 199.8h2.8v2.8h-2.8zM91.6 201.1h2.8v2.8h-2.8zM93.5 199.8h2.8v2.8h-2.8zM95.3 201.1h2.8v2.8h-2.8zM98.5 199.8h2.8v2.8h-2.8zM100.3 199.2h2.8v2.8h-2.8zM97.2 197.3h2.8v2.8h-2.8zM103.5 195.5h2.8v2.8h-2.8zM87.8 206.1h2.8v2.8h-2.8zM87.2 208.6h2.8v2.8h-2.8zM94.7 210.5h2.8v2.8h-2.8zM108.5 206.7h2.8v2.8h-2.8zM112.8 203.8h2.8v2.8h-2.8zM125.6 201.1h2.8v2.8h-2.8zM115.1 216.3h2.8v2.8h-2.8zM87.8 216.7h2.8v2.8h-2.8zM109.1 199.2h2.8v2.8h-2.8zM89.1 203.3h2.8v2.8h-2.8zM96.0 184.8h2.8v2.8h-2.8zM96.0 188.8h2.8v2.8h-2.8zM99.1 188.8h2.8v2.8h-2.8zM98.5 192.6h2.8v2.8h-2.8zM101.6 193.0h2.8v2.8h-2.8zM105.1 193.3h2.8v2.8h-2.8zM111.2 184.8h2.8v2.8h-2.8zM113.1 184.5h2.8v2.8h-2.8zM112.2 189.6h2.8v2.8h-2.8zM111.3 177.1h2.8v2.8h-2.8zM116.0 174.6h2.8v2.8h-2.8zM114.7 178.3h2.8v2.8h-2.8zM131.3 180.5h2.8v2.8h-2.8zM134.7 169.6h2.8v2.8h-2.8zM134.7 172.3h2.8v2.8h-2.8zM134.1 192.3h2.8v2.8h-2.8zM137.2 176.3h2.8v2.8h-2.8zM137.6 182.4h2.8v2.8h-2.8zM144.5 184.5h2.8v2.8h-2.8zM66.3 216.8h2.8v2.8h-2.8zM71.7 213.8h2.8v2.8h-2.8zM80.7 200.9h2.8v2.8h-2.8zM84.3 206.1h2.8v2.8h-2.8zM78.7 218.2h2.8v2.8h-2.8zM73.4 218.5h2.8v2.8h-2.8zM70.0 222.5h2.8v2.8h-2.8zM66.3 215.1h2.8v2.8h-2.8zM90.2 198.4h2.8v2.8h-2.8zM92.1 201.2h2.8v2.8h-2.8zM101.4 196.5h2.8v2.8h-2.8zM98.5 189.7h2.8v2.8h-2.8zM100.4 192.4h2.8v2.8h-2.8z"/><path fill="#ff0000" d="M44.0 232.4l1.75 3.15h-3.50zM44.2 231.1l1.75 3.15h-3.50zM48.6 238.6l1.75 3.15h-3.50zM53.0 229.5l1.75 3.15h-3.50zM56.8 229.5l1.75 3.15h-3.50zM59.9 226.1l1.75 3.15h-3.50zM58.0 223.0l1.75 3.15h-3.50zM61.8 222.4l1.75 3.15h-3.50zM64.2 224.3l1.75 3.15h-3.50zM64.2 228.6l1.75 3.15h-3.50zM64.2 231.1l1.75 3.15h-3.50zM67.4 225.8l1.75 3.15h-3.50zM69.2 228.6l1.75 3.15h-3.50zM68.0 233.3l1.75 3.15h-3.50zM66.1 219.3l1.75 3.15h-3.50zM68.0 218.6l1.75 3.15h-3.50zM70.5 218.6l1.75 3.15h-3.50zM72.4 219.9l1.75 3.15h-3.50zM73.0 215.5l1.75 3.15h-3.50zM74.9 217.4l1.75 3.15h-3.50zM71.1 220.5l1.75 3.15h-3.50zM73.6 206.1l1.75 3.15h-3.50zM78.6 204.9l1.75 3.15h-3.50zM81.8 206.1l1.75 3.15h-3.50zM82.4 195.5l1.75 3.15h-3.50zM84.2 203.0l1.75 3.15h-3.50zM84.9 209.3l1.75 3.15h-3.50zM86.1 211.8l1.75 3.15h-3.50zM83.6 213.6l1.75 3.15h-3.50zM79.2 213.6l1.75 3.15h-3.50zM77.4 218.6l1.75 3.15h-3.50zM78.6 219.9l1.75 3.15h-3.50zM79.9 224.3l1.75 3.15h-3.50zM84.9 219.9l1.75 3.15h-3.50zM86.8 215.5l1.75 3.15h-3.50zM90.5 206.8l1.75 3.15h-3.50zM89.2 211.1l1.75 3.15h-3.50zM92.4 205.5l1.75 3.15h-3.50zM98.6 204.9l1.75 3.15h-3.50zM99.9 201.8l1.75 3.15h-3.50zM103.0 199.9l1.75 3.15h-3.50zM106.8 198.6l1.75 3.15h-3.50zM112.4 207.4l1.75 3.15h-3.50zM109.2 206.1l1.75 3.15h-3.50zM106.8 211.5l1.75 3.15h-3.50zM116.1 214.9l1.75 3.15h-3.50zM133.0 213.0l1.75 3.15h-3.50zM94.9 216.1l1.75 3.15h-3.50zM96.1 214.3l1.75 3.15h-3.50zM99.9 216.1l1.75 3.15h-3.50zM96.1 218.6l1.75 3.15h-3.50zM97.4 220.5l1.75 3.15h-3.50zM99.2 215.5l1.75 3.15h-3.50zM114.9 194.9l1.75 3.15h-3.50zM116.8 198.0l1.75 3.15h-3.50zM118.0 194.9l1.75 3.15h-3.50zM108.0 195.5l1.75 3.15h-3.50zM89.5 188.6l1.75 3.15h-3.50zM89.5 192.0l1.75 3.15h-3.50zM103.0 184.3l1.75 3.15h-3.50zM102.4 189.5l1.75 3.15h-3.50zM100.5 192.0l1.75 3.15h-3.50zM109.9 188.0l1.75 3.15h-3.50zM110.5 190.8l1.75 3.15h-3.50zM111.1 182.4l1.75 3.15h-3.50zM114.2 172.8l1.75 3.15h-3.50zM116.1 174.9l1.75 3.15h-3.50zM117.4 179.3l1.75 3.15h-3.50zM113.0 179.0l1.75 3.15h-3.50zM127.0 174.5l1.75 3.15h-3.50zM135.5 177.4l1.75 3.15h-3.50zM136.1 187.8l1.75 3.15h-3.50zM124.2 192.0l1.75 3.15h-3.50zM114.2 194.3l1.75 3.15h-3.50zM116.8 194.5l1.75 3.15h-3.50zM139.0 185.3l1.75 3.15h-3.50zM135.9 187.6l1.75 3.15h-3.50zM136.4 191.2l1.75 3.15h-3.50zM138.6 194.0l1.75 3.15h-3.50zM145.7 191.8l1.75 3.15h-3.50zM59.7 224.6l1.75 3.15h-3.50zM62.6 225.0l1.75 3.15h-3.50zM66.0 227.5l1.75 3.15h-3.50zM66.5 221.2l1.75 3.15h-3.50zM74.7 215.9l1.75 3.15h-3.50zM73.5 219.0l1.75 3.15h-3.50zM96.9 215.3l1.75 3.15h-3.50zM98.8 221.3l1.75 3.15h-3.50zM97.3 215.7l1.75 3.15h-3.50zM116.8 195.0l1.75 3.15h-3.50z"/><path d="M44.00 227.00L48.25 225.06L52.50 223.12L56.75 221.16L61.00 219.20L65.25 217.22L69.50 215.22L73.75 213.19L78.00 211.12L82.25 209.00L86.50 206.82L90.75 204.59L95.00 202.30L99.25 199.97L103.50 197.60L107.75 195.22L112.00 192.81L116.25 190.39L120.50 187.97L124.75 185.53L129.00 183.09L133.25 180.65L137.50 178.20L141.75 175.75L146.00 173.30L146.00 181.70L141.75 183.62L137.50 185.55L133.25 187.48L129.00 189.41L124.75 191.34L120.50 193.28L116.25 195.23L112.00 197.19L107.75 199.16L103.50 201.15L99.25 203.16L95.00 205.20L90.75 207.29L86.50 209.43L82.25 211.63L78.00 213.88L73.75 216.19L69.50 218.53L65.25 220.91L61.00 223.30L56.75 225.71L52.50 228.13L48.25 230.56L44.00 233.00Z" fill="rgba(60,75,255,0.38)"/><path d="M44.00 230.00L48.25 228.13L52.50 226.26L56.75 224.38L61.00 222.48L65.25 220.57L69.50 218.63L73.75 216.65L78.00 214.62L82.25 212.53L86.50 210.36L90.75 208.12L95.00 205.81L99.25 203.46L103.50 201.07L107.75 198.65L112.00 196.22L116.25 193.78L120.50 191.32L124.75 188.86L129.00 186.40L133.25 183.93L137.50 181.45L141.75 178.98L146.00 176.50L146.00 186.50L141.75 188.35L137.50 190.20L133.25 192.05L129.00 193.90L124.75 195.76L120.50 197.63L116.25 199.50L112.00 201.38L107.75 203.27L103.50 205.18L99.25 207.12L95.00 209.09L90.75 211.11L86.50 213.19L82.25 215.34L78.00 217.58L73.75 219.87L69.50 222.22L65.25 224.61L61.00 227.02L56.75 229.45L52.50 231.89L48.25 234.34L44.00 236.80Z" fill="rgba(255,60,60,0.36)"/><line x1="31.25" y1="144.85" x2="31.25" y2="249.95" stroke="#333" stroke-width="0.9" /><line x1="30.80" y1="249.50" x2="161.60" y2="249.50" stroke="#333" stroke-width="0.9" /><line x1="29.05" y1="249.50" x2="31.25" y2="249.50" stroke="#333" stroke-width="0.8" /><text x="28.15" y="251.50" font-size="6.0" text-anchor="end" >0</text><line x1="29.05" y1="236.47" x2="31.25" y2="236.47" stroke="#333" stroke-width="0.8" /><text x="28.15" y="238.47" font-size="6.0" text-anchor="end" >10</text><line x1="29.05" y1="223.44" x2="31.25" y2="223.44" stroke="#333" stroke-width="0.8" /><text x="28.15" y="225.44" font-size="6.0" text-anchor="end" >20</text><line x1="29.05" y1="210.41" x2="31.25" y2="210.41" stroke="#333" stroke-width="0.8" /><text x="28.15" y="212.41" font-size="6.0" text-anchor="end" >30</text><line x1="29.05" y1="197.38" x2="31.25" y2="197.38" stroke="#333" stroke-width="0.8" /><text x="28.15" y="199.38" font-size="6.0" text-anchor="end" >40</text><line x1="29.05" y1="184.34" x2="31.25" y2="184.34" stroke="#333" stroke-width="0.8" /><text x="28.15" y="186.34" font-size="6.0" text-anchor="end" >50</text><line x1="29.05" y1="171.31" x2="31.25" y2="171.31" stroke="#333" stroke-width="0.8" /><text x="28.15" y="173.31" font-size="6.0" text-anchor="end" >60</text><line x1="29.05" y1="158.28" x2="31.25" y2="158.28" stroke="#333" stroke-width="0.8" /><text x="28.15" y="160.28" font-size="6.0" text-anchor="end" >70</text><line x1="29.05" y1="145.25" x2="31.25" y2="145.25" stroke="#333" stroke-width="0.8" /><text x="28.15" y="147.25" font-size="6.0" text-anchor="end" >80</text><line x1="29.95" y1="242.98" x2="31.25" y2="242.98" stroke="#333" stroke-width="0.6" /><line x1="29.95" y1="229.95" x2="31.25" y2="229.95" stroke="#333" stroke-width="0.6" /><line x1="29.95" y1="216.92" x2="31.25" y2="216.92" stroke="#333" stroke-width="0.6" /><line x1="29.95" y1="203.89" x2="31.25" y2="203.89" stroke="#333" stroke-width="0.6" /><line x1="29.95" y1="190.86" x2="31.25" y2="190.86" stroke="#333" stroke-width="0.6" /><line x1="29.95" y1="177.83" x2="31.25" y2="177.83" stroke="#333" stroke-width="0.6" /><line x1="29.95" y1="164.80" x2="31.25" y2="164.80" stroke="#333" stroke-width="0.6" /><line x1="29.95" y1="151.77" x2="31.25" y2="151.77" stroke="#333" stroke-width="0.6" /><line x1="43.50" y1="249.50" x2="43.50" y2="251.70" stroke="#333" stroke-width="0.8" /><text x="43.50" y="256.90" font-size="6.0" text-anchor="middle" >10</text><line x1="67.04" y1="249.50" x2="67.04" y2="251.70" stroke="#333" stroke-width="0.8" /><text x="67.04" y="256.90" font-size="6.0" text-anchor="middle" >20</text><line x1="90.58" y1="249.50" x2="90.58" y2="251.70" stroke="#333" stroke-width="0.8" /><text x="90.58" y="256.90" font-size="6.0" text-anchor="middle" >30</text><line x1="114.12" y1="249.50" x2="114.12" y2="251.70" stroke="#333" stroke-width="0.8" /><text x="114.12" y="256.90" font-size="6.0" text-anchor="middle" >40</text><line x1="137.66" y1="249.50" x2="137.66" y2="251.70" stroke="#333" stroke-width="0.8" /><text x="137.66" y="256.90" font-size="6.0" text-anchor="middle" >50</text><line x1="161.20" y1="249.50" x2="161.20" y2="251.70" stroke="#333" stroke-width="0.8" /><text x="161.20" y="256.90" font-size="6.0" text-anchor="middle" >60</text><line x1="55.27" y1="249.50" x2="55.27" y2="250.80" stroke="#333" stroke-width="0.6" /><line x1="78.81" y1="249.50" x2="78.81" y2="250.80" stroke="#333" stroke-width="0.6" /><line x1="102.35" y1="249.50" x2="102.35" y2="250.80" stroke="#333" stroke-width="0.6" /><line x1="125.89" y1="249.50" x2="125.89" y2="250.80" stroke="#333" stroke-width="0.6" /><line x1="149.43" y1="249.50" x2="149.43" y2="250.80" stroke="#333" stroke-width="0.6" /><text x="0" y="0" font-size="6.6" text-anchor="middle" textLength="78.8" lengthAdjust="spacingAndGlyphs" transform="translate(19.8,197.4) rotate(-90)">Estimated values of DBH (cm)</text><text x="96.30" y="266.80" font-size="7.1" text-anchor="middle" textLength="79" lengthAdjust="spacingAndGlyphs" >Measured values of DBH (cm)</text><text x="20.30" y="147.40" font-size="6.4" text-anchor="end" textLength="6.4" lengthAdjust="spacingAndGlyphs" >BF</text><path fill="#0000ff" d="M34.2 145.6h2.6v2.6h-2.6z"/><path fill="#ff0000" d="M35.5 152.9l1.55 2.79h-3.10z"/><text x="43.30" y="148.75" font-size="5.3" text-anchor="start" textLength="33.5" lengthAdjust="spacingAndGlyphs" >LSA-RANSAC</text><text x="43.30" y="156.45" font-size="5.3" text-anchor="start" textLength="21.0" lengthAdjust="spacingAndGlyphs" >RANSCA</text><line x1="242.20" y1="182.30" x2="379.60" y2="182.30" stroke="#4a4a4a" stroke-width="1.0" stroke-dasharray="3 2.55"/><line x1="242.20" y1="219.10" x2="379.60" y2="219.10" stroke="#4a4a4a" stroke-width="1.0" stroke-dasharray="3 2.55"/><line x1="242.20" y1="145.10" x2="242.20" y2="256.30" stroke="#333" stroke-width="0.9" /><line x1="242.20" y1="200.70" x2="379.40" y2="200.70" stroke="#333" stroke-width="0.9" /><line x1="240.00" y1="145.50" x2="242.20" y2="145.50" stroke="#333" stroke-width="0.8" /><text x="239.00" y="147.55" font-size="6.0" text-anchor="end" >30</text><line x1="240.00" y1="163.90" x2="242.20" y2="163.90" stroke="#333" stroke-width="0.8" /><text x="239.00" y="165.95" font-size="6.0" text-anchor="end" >20</text><line x1="240.00" y1="182.30" x2="242.20" y2="182.30" stroke="#333" stroke-width="0.8" /><text x="239.00" y="184.35" font-size="6.0" text-anchor="end" >10</text><line x1="240.00" y1="200.70" x2="242.20" y2="200.70" stroke="#333" stroke-width="0.8" /><text x="239.00" y="202.75" font-size="6.0" text-anchor="end" >0</text><line x1="240.00" y1="219.10" x2="242.20" y2="219.10" stroke="#333" stroke-width="0.8" /><text x="239.00" y="221.15" font-size="6.0" text-anchor="end" >-10</text><line x1="240.00" y1="237.50" x2="242.20" y2="237.50" stroke="#333" stroke-width="0.8" /><text x="239.00" y="239.55" font-size="6.0" text-anchor="end" >-20</text><line x1="240.00" y1="255.90" x2="242.20" y2="255.90" stroke="#333" stroke-width="0.8" /><text x="239.00" y="257.95" font-size="6.0" text-anchor="end" >-30</text><line x1="240.90" y1="154.70" x2="242.20" y2="154.70" stroke="#333" stroke-width="0.6" /><line x1="240.90" y1="173.10" x2="242.20" y2="173.10" stroke="#333" stroke-width="0.6" /><line x1="240.90" y1="191.50" x2="242.20" y2="191.50" stroke="#333" stroke-width="0.6" /><line x1="240.90" y1="209.90" x2="242.20" y2="209.90" stroke="#333" stroke-width="0.6" /><line x1="240.90" y1="228.30" x2="242.20" y2="228.30" stroke="#333" stroke-width="0.6" /><line x1="240.90" y1="246.70" x2="242.20" y2="246.70" stroke="#333" stroke-width="0.6" /><line x1="255.30" y1="200.70" x2="255.30" y2="202.90" stroke="#333" stroke-width="0.8" /><text x="255.30" y="208.80" font-size="6.0" text-anchor="middle" >10</text><line x1="280.04" y1="200.70" x2="280.04" y2="202.90" stroke="#333" stroke-width="0.8" /><text x="280.04" y="208.80" font-size="6.0" text-anchor="middle" >20</text><line x1="304.78" y1="200.70" x2="304.78" y2="202.90" stroke="#333" stroke-width="0.8" /><text x="304.78" y="208.80" font-size="6.0" text-anchor="middle" >30</text><line x1="329.52" y1="200.70" x2="329.52" y2="202.90" stroke="#333" stroke-width="0.8" /><text x="329.52" y="208.80" font-size="6.0" text-anchor="middle" >40</text><line x1="354.26" y1="200.70" x2="354.26" y2="202.90" stroke="#333" stroke-width="0.8" /><text x="354.26" y="208.80" font-size="6.0" text-anchor="middle" >50</text><line x1="379.00" y1="200.70" x2="379.00" y2="202.90" stroke="#333" stroke-width="0.8" /><text x="379.00" y="208.80" font-size="6.0" text-anchor="middle" >60</text><line x1="267.67" y1="200.70" x2="267.67" y2="202.00" stroke="#333" stroke-width="0.6" /><line x1="292.41" y1="200.70" x2="292.41" y2="202.00" stroke="#333" stroke-width="0.6" /><line x1="317.15" y1="200.70" x2="317.15" y2="202.00" stroke="#333" stroke-width="0.6" /><line x1="341.89" y1="200.70" x2="341.89" y2="202.00" stroke="#333" stroke-width="0.6" /><line x1="366.63" y1="200.70" x2="366.63" y2="202.00" stroke="#333" stroke-width="0.6" /><path fill="#0000ff" d="M254.1 198.6h2.8v2.8h-2.8zM263.5 199.2h2.8v2.8h-2.8zM272.2 198.6h2.8v2.8h-2.8zM287.9 197.1h2.8v2.8h-2.8zM290.4 197.1h2.8v2.8h-2.8zM283.5 198.6h2.8v2.8h-2.8zM259.4 208.1h2.8v2.8h-2.8zM267.2 208.5h2.8v2.8h-2.8zM267.2 203.5h2.8v2.8h-2.8zM271.6 204.7h2.8v2.8h-2.8zM275.4 203.5h2.8v2.8h-2.8zM275.4 208.5h2.8v2.8h-2.8zM275.6 210.3h2.8v2.8h-2.8zM279.7 206.3h2.8v2.8h-2.8zM280.4 207.8h2.8v2.8h-2.8zM284.1 207.8h2.8v2.8h-2.8zM287.2 203.5h2.8v2.8h-2.8zM290.4 211.6h2.8v2.8h-2.8zM278.2 218.5h2.8v2.8h-2.8zM285.4 220.3h2.8v2.8h-2.8zM286.4 229.7h2.8v2.8h-2.8zM282.9 200.3h2.8v2.8h-2.8zM272.9 199.7h2.8v2.8h-2.8zM330.5 168.6h2.8v2.8h-2.8zM302.4 187.6h2.8v2.8h-2.8zM301.1 191.1h2.8v2.8h-2.8zM294.9 190.5h2.8v2.8h-2.8zM309.9 192.6h2.8v2.8h-2.8zM323.6 188.3h2.8v2.8h-2.8zM328.4 188.0h2.8v2.8h-2.8zM292.4 194.8h2.8v2.8h-2.8zM293.6 196.1h2.8v2.8h-2.8zM324.2 196.7h2.8v2.8h-2.8zM314.9 198.3h2.8v2.8h-2.8zM329.9 195.5h2.8v2.8h-2.8zM338.0 195.1h2.8v2.8h-2.8zM301.1 201.6h2.8v2.8h-2.8zM303.6 201.0h2.8v2.8h-2.8zM301.7 206.6h2.8v2.8h-2.8zM295.5 206.0h2.8v2.8h-2.8zM292.4 204.7h2.8v2.8h-2.8zM309.2 206.6h2.8v2.8h-2.8zM311.7 208.5h2.8v2.8h-2.8zM308.0 209.7h2.8v2.8h-2.8zM304.2 211.3h2.8v2.8h-2.8zM298.0 210.3h2.8v2.8h-2.8zM315.5 202.2h2.8v2.8h-2.8zM313.6 204.7h2.8v2.8h-2.8zM321.1 202.6h2.8v2.8h-2.8zM320.5 208.8h2.8v2.8h-2.8zM327.4 203.5h2.8v2.8h-2.8zM328.0 208.5h2.8v2.8h-2.8zM317.4 211.8h2.8v2.8h-2.8zM313.0 214.7h2.8v2.8h-2.8zM314.2 219.1h2.8v2.8h-2.8zM310.5 222.2h2.8v2.8h-2.8zM294.2 215.1h2.8v2.8h-2.8zM298.0 216.0h2.8v2.8h-2.8zM290.5 220.1h2.8v2.8h-2.8zM293.6 219.1h2.8v2.8h-2.8zM326.1 216.3h2.8v2.8h-2.8zM328.6 215.3h2.8v2.8h-2.8zM331.1 222.2h2.8v2.8h-2.8zM326.7 226.8h2.8v2.8h-2.8zM332.4 226.8h2.8v2.8h-2.8zM310.5 227.6h2.8v2.8h-2.8zM316.1 198.8h2.8v2.8h-2.8zM332.4 198.1h2.8v2.8h-2.8zM341.7 182.1h2.8v2.8h-2.8zM350.9 187.1h2.8v2.8h-2.8zM361.7 190.5h2.8v2.8h-2.8zM338.9 194.8h2.8v2.8h-2.8zM354.6 198.3h2.8v2.8h-2.8zM348.0 206.7h2.8v2.8h-2.8zM354.0 208.0h2.8v2.8h-2.8zM351.7 215.5h2.8v2.8h-2.8zM351.7 219.6h2.8v2.8h-2.8zM288.7 197.9h2.8v2.8h-2.8zM274.2 201.9h2.8v2.8h-2.8zM276.4 206.9h2.8v2.8h-2.8zM279.4 207.5h2.8v2.8h-2.8zM300.7 205.0h2.8v2.8h-2.8z"/><path fill="#ff0000" d="M260.5 188.3l1.75 3.15h-3.50zM281.4 180.3l1.75 3.15h-3.50zM282.8 186.1l1.75 3.15h-3.50zM276.8 187.0l1.75 3.15h-3.50zM277.0 190.5l1.75 3.15h-3.50zM280.5 191.8l1.75 3.15h-3.50zM268.6 195.3l1.75 3.15h-3.50zM265.2 197.4l1.75 3.15h-3.50zM272.0 197.4l1.75 3.15h-3.50zM277.0 196.5l1.75 3.15h-3.50zM284.9 194.9l1.75 3.15h-3.50zM286.1 197.0l1.75 3.15h-3.50zM289.9 197.4l1.75 3.15h-3.50zM291.8 192.4l1.75 3.15h-3.50zM292.4 184.3l1.75 3.15h-3.50zM282.4 198.0l1.75 3.15h-3.50zM255.5 201.6l1.75 3.15h-3.50zM268.6 200.8l1.75 3.15h-3.50zM272.4 200.8l1.75 3.15h-3.50zM273.0 204.5l1.75 3.15h-3.50zM276.8 203.8l1.75 3.15h-3.50zM279.2 201.6l1.75 3.15h-3.50zM280.5 204.8l1.75 3.15h-3.50zM283.0 202.3l1.75 3.15h-3.50zM286.1 201.6l1.75 3.15h-3.50zM287.4 204.8l1.75 3.15h-3.50zM289.9 201.0l1.75 3.15h-3.50zM290.5 204.8l1.75 3.15h-3.50zM280.5 207.3l1.75 3.15h-3.50zM287.0 214.8l1.75 3.15h-3.50zM281.8 198.5l1.75 3.15h-3.50zM285.5 197.9l1.75 3.15h-3.50zM288.6 197.9l1.75 3.15h-3.50zM284.2 196.6l1.75 3.15h-3.50zM332.2 169.3l1.75 3.15h-3.50zM312.2 174.9l1.75 3.15h-3.50zM312.2 177.0l1.75 3.15h-3.50zM315.6 178.6l1.75 3.15h-3.50zM310.6 180.3l1.75 3.15h-3.50zM314.8 182.4l1.75 3.15h-3.50zM321.9 181.5l1.75 3.15h-3.50zM327.8 181.8l1.75 3.15h-3.50zM325.6 185.5l1.75 3.15h-3.50zM293.1 184.3l1.75 3.15h-3.50zM299.0 185.3l1.75 3.15h-3.50zM309.4 184.9l1.75 3.15h-3.50zM311.0 185.8l1.75 3.15h-3.50zM293.8 189.3l1.75 3.15h-3.50zM295.6 191.1l1.75 3.15h-3.50zM299.4 193.6l1.75 3.15h-3.50zM302.5 194.3l1.75 3.15h-3.50zM305.0 194.0l1.75 3.15h-3.50zM313.8 195.3l1.75 3.15h-3.50zM305.6 196.5l1.75 3.15h-3.50zM331.9 192.0l1.75 3.15h-3.50zM333.1 196.5l1.75 3.15h-3.50zM296.9 196.1l1.75 3.15h-3.50zM301.9 195.5l1.75 3.15h-3.50zM291.9 204.8l1.75 3.15h-3.50zM295.6 207.3l1.75 3.15h-3.50zM298.1 210.4l1.75 3.15h-3.50zM292.5 211.6l1.75 3.15h-3.50zM296.9 201.6l1.75 3.15h-3.50zM303.1 204.5l1.75 3.15h-3.50zM305.6 205.4l1.75 3.15h-3.50zM306.9 200.8l1.75 3.15h-3.50zM322.5 198.3l1.75 3.15h-3.50zM330.0 199.5l1.75 3.15h-3.50zM314.4 209.8l1.75 3.15h-3.50zM316.9 212.0l1.75 3.15h-3.50zM316.9 215.8l1.75 3.15h-3.50zM325.0 208.5l1.75 3.15h-3.50zM325.2 211.6l1.75 3.15h-3.50zM326.2 219.1l1.75 3.15h-3.50zM328.5 222.0l1.75 3.15h-3.50zM332.5 219.1l1.75 3.15h-3.50zM333.1 218.3l1.75 3.15h-3.50zM331.9 225.8l1.75 3.15h-3.50zM329.8 229.8l1.75 3.15h-3.50zM318.5 222.0l1.75 3.15h-3.50zM303.1 222.5l1.75 3.15h-3.50zM303.8 226.3l1.75 3.15h-3.50zM295.6 222.9l1.75 3.15h-3.50zM296.9 222.5l1.75 3.15h-3.50zM349.4 158.6l1.75 3.15h-3.50zM363.1 178.6l1.75 3.15h-3.50zM355.2 181.5l1.75 3.15h-3.50zM353.1 186.8l1.75 3.15h-3.50zM352.9 191.5l1.75 3.15h-3.50zM356.0 193.3l1.75 3.15h-3.50zM340.6 195.8l1.75 3.15h-3.50zM352.2 207.0l1.75 3.15h-3.50zM343.1 217.4l1.75 3.15h-3.50zM286.5 196.7l1.75 3.15h-3.50zM281.0 197.8l1.75 3.15h-3.50zM268.4 198.7l1.75 3.15h-3.50zM273.3 200.5l1.75 3.15h-3.50zM278.6 206.0l1.75 3.15h-3.50zM291.6 204.2l1.75 3.15h-3.50zM283.7 197.8l1.75 3.15h-3.50zM309.2 179.5l1.75 3.15h-3.50zM292.1 187.5l1.75 3.15h-3.50zM294.6 191.5l1.75 3.15h-3.50zM301.9 193.4l1.75 3.15h-3.50zM306.2 194.3l1.75 3.15h-3.50zM303.9 197.8l1.75 3.15h-3.50zM292.1 206.6l1.75 3.15h-3.50z"/><text x="0" y="0" font-size="6.60" text-anchor="middle" textLength="79.5" lengthAdjust="spacingAndGlyphs" transform="translate(228.5,200.75) rotate(-90)">Residual values of DBH (cm)</text><text x="310.90" y="265.40" font-size="7.1" text-anchor="middle" textLength="82.5" lengthAdjust="spacingAndGlyphs" >Measured values of DBH (cm)</text><text x="230.20" y="147.40" font-size="6.4" text-anchor="end" textLength="6.4" lengthAdjust="spacingAndGlyphs" >BF</text><path fill="#0000ff" d="M245.4 145.8h2.6v2.6h-2.6z"/><path fill="#ff0000" d="M246.8 153.3l1.55 2.79h-3.10z"/><text x="255.00" y="148.95" font-size="5.3" text-anchor="start" textLength="34.5" lengthAdjust="spacingAndGlyphs" >LSA-RANSAC</text><text x="255.00" y="156.85" font-size="5.3" text-anchor="start" textLength="21.7" lengthAdjust="spacingAndGlyphs" >RANSCA</text><line x1="41.00" y1="368.40" x2="141.70" y2="304.50" stroke="#2035ff" stroke-width="0.9" /><line x1="41.00" y1="376.60" x2="141.70" y2="316.60" stroke="#ff1a1a" stroke-width="0.9" /><path fill="#0000ff" d="M83.0 330.5h2.8v2.8h-2.8zM78.0 333.9h2.8v2.8h-2.8zM82.3 338.0h2.8v2.8h-2.8zM70.8 337.1h2.8v2.8h-2.8zM64.8 341.7h2.8v2.8h-2.8zM60.5 343.4h2.8v2.8h-2.8zM69.8 342.4h2.8v2.8h-2.8zM73.6 343.0h2.8v2.8h-2.8zM76.7 343.9h2.8v2.8h-2.8zM79.8 342.1h2.8v2.8h-2.8zM57.4 348.6h2.8v2.8h-2.8zM61.7 348.0h2.8v2.8h-2.8zM63.6 349.9h2.8v2.8h-2.8zM66.7 348.0h2.8v2.8h-2.8zM68.6 348.6h2.8v2.8h-2.8zM70.5 347.4h2.8v2.8h-2.8zM72.3 346.1h2.8v2.8h-2.8zM76.1 348.0h2.8v2.8h-2.8zM78.6 349.9h2.8v2.8h-2.8zM60.5 354.2h2.8v2.8h-2.8zM63.6 355.5h2.8v2.8h-2.8zM65.5 357.4h2.8v2.8h-2.8zM58.6 358.6h2.8v2.8h-2.8zM50.5 356.4h2.8v2.8h-2.8zM52.4 359.6h2.8v2.8h-2.8zM41.7 361.1h2.8v2.8h-2.8zM44.2 361.4h2.8v2.8h-2.8zM42.4 364.2h2.8v2.8h-2.8zM44.9 366.1h2.8v2.8h-2.8zM41.1 370.5h2.8v2.8h-2.8zM48.6 363.6h2.8v2.8h-2.8zM51.7 362.4h2.8v2.8h-2.8zM55.5 367.4h2.8v2.8h-2.8zM69.8 362.6h2.8v2.8h-2.8zM73.6 365.5h2.8v2.8h-2.8zM81.1 361.7h2.8v2.8h-2.8zM83.0 354.2h2.8v2.8h-2.8zM63.6 363.0h2.8v2.8h-2.8zM84.8 329.2h2.8v2.8h-2.8zM88.0 331.4h2.8v2.8h-2.8zM85.5 336.1h2.8v2.8h-2.8zM84.2 338.0h2.8v2.8h-2.8zM86.1 343.6h2.8v2.8h-2.8zM97.3 342.4h2.8v2.8h-2.8zM84.2 346.7h2.8v2.8h-2.8zM90.5 349.6h2.8v2.8h-2.8zM94.8 350.1h2.8v2.8h-2.8zM99.8 331.1h2.8v2.8h-2.8zM103.6 329.2h2.8v2.8h-2.8zM109.8 333.0h2.8v2.8h-2.8zM107.3 310.9h2.8v2.8h-2.8zM110.1 312.4h2.8v2.8h-2.8zM101.1 315.5h2.8v2.8h-2.8zM106.1 315.1h2.8v2.8h-2.8zM100.8 318.4h2.8v2.8h-2.8zM102.3 319.6h2.8v2.8h-2.8zM107.6 318.6h2.8v2.8h-2.8zM96.1 321.7h2.8v2.8h-2.8zM101.1 323.0h2.8v2.8h-2.8zM110.8 322.4h2.8v2.8h-2.8zM115.5 315.5h2.8v2.8h-2.8zM119.6 311.7h2.8v2.8h-2.8zM83.6 326.4h2.8v2.8h-2.8zM133.4 313.2h2.8v2.8h-2.8zM140.8 318.1h2.8v2.8h-2.8zM70.7 343.0h2.8v2.8h-2.8zM75.6 344.9h2.8v2.8h-2.8zM64.4 349.4h2.8v2.8h-2.8zM67.4 350.4h2.8v2.8h-2.8zM69.4 348.7h2.8v2.8h-2.8zM76.3 348.7h2.8v2.8h-2.8zM61.2 352.5h2.8v2.8h-2.8zM61.8 354.2h2.8v2.8h-2.8zM47.0 365.8h2.8v2.8h-2.8zM101.2 318.9h2.8v2.8h-2.8zM100.6 321.2h2.8v2.8h-2.8z"/><path fill="#ff0000" d="M65.0 337.8l1.75 3.15h-3.50zM73.8 340.3l1.75 3.15h-3.50zM78.8 337.4l1.75 3.15h-3.50zM61.9 344.9l1.75 3.15h-3.50zM65.0 344.3l1.75 3.15h-3.50zM71.2 343.6l1.75 3.15h-3.50zM67.5 348.0l1.75 3.15h-3.50zM60.0 351.1l1.75 3.15h-3.50zM63.8 351.8l1.75 3.15h-3.50zM70.0 351.1l1.75 3.15h-3.50zM72.5 349.9l1.75 3.15h-3.50zM75.6 353.0l1.75 3.15h-3.50zM78.1 351.1l1.75 3.15h-3.50zM80.6 353.0l1.75 3.15h-3.50zM83.1 351.1l1.75 3.15h-3.50zM83.8 348.6l1.75 3.15h-3.50zM72.5 355.5l1.75 3.15h-3.50zM75.0 356.8l1.75 3.15h-3.50zM78.1 357.4l1.75 3.15h-3.50zM81.2 356.1l1.75 3.15h-3.50zM66.2 358.6l1.75 3.15h-3.50zM68.1 359.9l1.75 3.15h-3.50zM63.8 358.6l1.75 3.15h-3.50zM60.6 360.5l1.75 3.15h-3.50zM56.9 361.1l1.75 3.15h-3.50zM54.4 363.6l1.75 3.15h-3.50zM57.5 364.3l1.75 3.15h-3.50zM61.2 365.5l1.75 3.15h-3.50zM65.6 362.4l1.75 3.15h-3.50zM67.5 364.3l1.75 3.15h-3.50zM71.9 365.5l1.75 3.15h-3.50zM76.2 361.8l1.75 3.15h-3.50zM78.1 363.0l1.75 3.15h-3.50zM40.6 363.3l1.75 3.15h-3.50zM42.5 364.3l1.75 3.15h-3.50zM44.4 365.5l1.75 3.15h-3.50zM50.0 367.8l1.75 3.15h-3.50zM53.1 369.3l1.75 3.15h-3.50zM51.9 371.1l1.75 3.15h-3.50zM56.9 373.6l1.75 3.15h-3.50zM60.0 371.8l1.75 3.15h-3.50zM63.8 368.6l1.75 3.15h-3.50zM65.6 371.1l1.75 3.15h-3.50zM66.9 369.3l1.75 3.15h-3.50zM71.2 368.6l1.75 3.15h-3.50zM71.9 372.4l1.75 3.15h-3.50zM70.6 374.9l1.75 3.15h-3.50zM51.9 377.4l1.75 3.15h-3.50zM82.5 358.6l1.75 3.15h-3.50zM88.1 341.1l1.75 3.15h-3.50zM86.9 343.6l1.75 3.15h-3.50zM91.9 344.3l1.75 3.15h-3.50zM98.1 344.3l1.75 3.15h-3.50zM102.5 347.0l1.75 3.15h-3.50zM108.5 348.6l1.75 3.15h-3.50zM102.5 351.5l1.75 3.15h-3.50zM97.5 357.4l1.75 3.15h-3.50zM87.2 351.8l1.75 3.15h-3.50zM86.9 354.3l1.75 3.15h-3.50zM89.4 356.8l1.75 3.15h-3.50zM87.5 359.3l1.75 3.15h-3.50zM85.6 357.4l1.75 3.15h-3.50zM86.2 362.4l1.75 3.15h-3.50zM86.2 364.9l1.75 3.15h-3.50zM111.2 336.5l1.75 3.15h-3.50zM103.8 330.3l1.75 3.15h-3.50zM101.2 329.9l1.75 3.15h-3.50zM111.0 332.0l1.75 3.15h-3.50zM107.5 309.5l1.75 3.15h-3.50zM96.2 317.4l1.75 3.15h-3.50zM108.8 316.1l1.75 3.15h-3.50zM112.2 318.3l1.75 3.15h-3.50zM116.9 313.6l1.75 3.15h-3.50zM120.6 319.9l1.75 3.15h-3.50zM102.2 321.1l1.75 3.15h-3.50zM134.8 308.0l1.75 3.15h-3.50zM142.2 312.2l1.75 3.15h-3.50zM74.7 348.6l1.75 3.15h-3.50zM79.2 349.6l1.75 3.15h-3.50zM74.1 357.7l1.75 3.15h-3.50zM75.1 358.8l1.75 3.15h-3.50zM80.4 358.1l1.75 3.15h-3.50zM67.4 360.2l1.75 3.15h-3.50zM67.3 359.1l1.75 3.15h-3.50zM63.2 360.4l1.75 3.15h-3.50zM59.2 362.4l1.75 3.15h-3.50zM62.0 366.9l1.75 3.15h-3.50zM54.2 371.2l1.75 3.15h-3.50zM63.7 367.1l1.75 3.15h-3.50zM66.8 370.0l1.75 3.15h-3.50zM82.5 360.8l1.75 3.15h-3.50zM85.8 354.9l1.75 3.15h-3.50zM90.0 357.5l1.75 3.15h-3.50zM88.8 358.9l1.75 3.15h-3.50zM87.1 356.3l1.75 3.15h-3.50zM86.6 362.2l1.75 3.15h-3.50z"/><path d="M41.00 365.00L45.20 362.65L49.39 360.29L53.59 357.92L57.78 355.52L61.98 353.11L66.17 350.66L70.37 348.15L74.57 345.58L78.76 342.93L82.96 340.20L87.15 337.40L91.35 334.55L95.55 331.65L99.74 328.72L103.94 325.78L108.13 322.82L112.33 319.84L116.52 316.86L120.72 313.88L124.92 310.89L129.11 307.90L133.31 304.90L137.50 301.90L141.70 298.90L141.70 310.10L137.50 312.42L133.31 314.75L129.11 317.08L124.92 319.41L120.72 321.75L116.52 324.09L112.33 326.43L108.13 328.78L103.94 331.15L99.74 333.53L95.55 335.93L91.35 338.35L87.15 340.82L82.96 343.35L78.76 345.94L74.57 348.62L70.37 351.37L66.17 354.19L61.98 357.07L57.78 359.98L53.59 362.91L49.39 365.86L45.20 368.83L41.00 371.80Z" fill="rgba(60,75,255,0.38)"/><path d="M41.00 372.60L45.20 370.48L49.39 368.35L53.59 366.21L57.78 364.05L61.98 361.86L66.17 359.63L70.37 357.34L74.57 354.97L78.76 352.50L82.96 349.91L87.15 347.24L91.35 344.49L95.55 341.70L99.74 338.87L103.94 336.02L108.13 333.16L112.33 330.28L116.52 327.40L120.72 324.51L124.92 321.61L129.11 318.71L133.31 315.81L137.50 312.91L141.70 310.00L141.70 323.20L137.50 325.29L133.31 327.39L129.11 329.49L124.92 331.59L120.72 333.69L116.52 335.80L112.33 337.92L108.13 340.04L103.94 342.18L99.74 344.33L95.55 346.50L91.35 348.71L87.15 350.96L82.96 353.29L78.76 355.70L74.57 358.23L70.37 360.86L66.17 363.57L61.98 366.34L57.78 369.15L53.59 371.99L49.39 374.85L45.20 377.72L41.00 380.60Z" fill="rgba(255,60,60,0.36)"/><line x1="31.50" y1="282.60" x2="31.50" y2="386.95" stroke="#333" stroke-width="0.9" /><line x1="31.05" y1="386.50" x2="160.90" y2="386.50" stroke="#333" stroke-width="0.9" /><line x1="29.30" y1="386.50" x2="31.50" y2="386.50" stroke="#333" stroke-width="0.8" /><text x="28.40" y="388.50" font-size="6.0" text-anchor="end" >0</text><line x1="29.30" y1="373.56" x2="31.50" y2="373.56" stroke="#333" stroke-width="0.8" /><text x="28.40" y="375.56" font-size="6.0" text-anchor="end" >10</text><line x1="29.30" y1="360.62" x2="31.50" y2="360.62" stroke="#333" stroke-width="0.8" /><text x="28.40" y="362.62" font-size="6.0" text-anchor="end" >20</text><line x1="29.30" y1="347.69" x2="31.50" y2="347.69" stroke="#333" stroke-width="0.8" /><text x="28.40" y="349.69" font-size="6.0" text-anchor="end" >30</text><line x1="29.30" y1="334.75" x2="31.50" y2="334.75" stroke="#333" stroke-width="0.8" /><text x="28.40" y="336.75" font-size="6.0" text-anchor="end" >40</text><line x1="29.30" y1="321.81" x2="31.50" y2="321.81" stroke="#333" stroke-width="0.8" /><text x="28.40" y="323.81" font-size="6.0" text-anchor="end" >50</text><line x1="29.30" y1="308.88" x2="31.50" y2="308.88" stroke="#333" stroke-width="0.8" /><text x="28.40" y="310.88" font-size="6.0" text-anchor="end" >60</text><line x1="29.30" y1="295.94" x2="31.50" y2="295.94" stroke="#333" stroke-width="0.8" /><text x="28.40" y="297.94" font-size="6.0" text-anchor="end" >70</text><line x1="29.30" y1="283.00" x2="31.50" y2="283.00" stroke="#333" stroke-width="0.8" /><text x="28.40" y="285.00" font-size="6.0" text-anchor="end" >80</text><line x1="30.20" y1="380.03" x2="31.50" y2="380.03" stroke="#333" stroke-width="0.6" /><line x1="30.20" y1="367.09" x2="31.50" y2="367.09" stroke="#333" stroke-width="0.6" /><line x1="30.20" y1="354.16" x2="31.50" y2="354.16" stroke="#333" stroke-width="0.6" /><line x1="30.20" y1="341.22" x2="31.50" y2="341.22" stroke="#333" stroke-width="0.6" /><line x1="30.20" y1="328.28" x2="31.50" y2="328.28" stroke="#333" stroke-width="0.6" /><line x1="30.20" y1="315.34" x2="31.50" y2="315.34" stroke="#333" stroke-width="0.6" /><line x1="30.20" y1="302.41" x2="31.50" y2="302.41" stroke="#333" stroke-width="0.6" /><line x1="30.20" y1="289.47" x2="31.50" y2="289.47" stroke="#333" stroke-width="0.6" /><line x1="41.80" y1="386.50" x2="41.80" y2="388.70" stroke="#333" stroke-width="0.8" /><text x="41.80" y="393.90" font-size="6.0" text-anchor="middle" >10</text><line x1="61.58" y1="386.50" x2="61.58" y2="388.70" stroke="#333" stroke-width="0.8" /><text x="61.58" y="393.90" font-size="6.0" text-anchor="middle" >20</text><line x1="81.37" y1="386.50" x2="81.37" y2="388.70" stroke="#333" stroke-width="0.8" /><text x="81.37" y="393.90" font-size="6.0" text-anchor="middle" >30</text><line x1="101.15" y1="386.50" x2="101.15" y2="388.70" stroke="#333" stroke-width="0.8" /><text x="101.15" y="393.90" font-size="6.0" text-anchor="middle" >40</text><line x1="120.93" y1="386.50" x2="120.93" y2="388.70" stroke="#333" stroke-width="0.8" /><text x="120.93" y="393.90" font-size="6.0" text-anchor="middle" >50</text><line x1="140.72" y1="386.50" x2="140.72" y2="388.70" stroke="#333" stroke-width="0.8" /><text x="140.72" y="393.90" font-size="6.0" text-anchor="middle" >60</text><line x1="160.50" y1="386.50" x2="160.50" y2="388.70" stroke="#333" stroke-width="0.8" /><text x="160.50" y="393.90" font-size="6.0" text-anchor="middle" >70</text><line x1="51.69" y1="386.50" x2="51.69" y2="387.80" stroke="#333" stroke-width="0.6" /><line x1="71.47" y1="386.50" x2="71.47" y2="387.80" stroke="#333" stroke-width="0.6" /><line x1="91.26" y1="386.50" x2="91.26" y2="387.80" stroke="#333" stroke-width="0.6" /><line x1="111.04" y1="386.50" x2="111.04" y2="387.80" stroke="#333" stroke-width="0.6" /><line x1="130.82" y1="386.50" x2="130.82" y2="387.80" stroke="#333" stroke-width="0.6" /><line x1="150.61" y1="386.50" x2="150.61" y2="387.80" stroke="#333" stroke-width="0.6" /><text x="0" y="0" font-size="6.6" text-anchor="middle" textLength="78.2" lengthAdjust="spacingAndGlyphs" transform="translate(20.1,334.55) rotate(-90)">Estimated values of DBH (cm)</text><text x="96.30" y="403.20" font-size="7.1" text-anchor="middle" textLength="79" lengthAdjust="spacingAndGlyphs" >Measured values of DBH (cm)</text><text x="20.60" y="284.60" font-size="6.4" text-anchor="end" textLength="9.4" lengthAdjust="spacingAndGlyphs" >CBF</text><path fill="#0000ff" d="M34.3 283.5h2.6v2.6h-2.6z"/><path fill="#ff0000" d="M35.6 290.8l1.55 2.79h-3.10z"/><text x="43.60" y="286.65" font-size="5.3" text-anchor="start" textLength="33.2" lengthAdjust="spacingAndGlyphs" >LSA-RANSAC</text><text x="43.60" y="294.35" font-size="5.3" text-anchor="start" textLength="20.6" lengthAdjust="spacingAndGlyphs" >RANSCA</text><line x1="236.30" y1="317.33" x2="386.30" y2="317.33" stroke="#4a4a4a" stroke-width="1.0" stroke-dasharray="3 2.55"/><line x1="236.30" y1="357.47" x2="386.30" y2="357.47" stroke="#4a4a4a" stroke-width="1.0" stroke-dasharray="3 2.55"/><line x1="236.30" y1="276.80" x2="236.30" y2="398.00" stroke="#333" stroke-width="0.9" /><line x1="236.30" y1="337.40" x2="386.10" y2="337.40" stroke="#333" stroke-width="0.9" /><line x1="233.88" y1="277.20" x2="236.30" y2="277.20" stroke="#333" stroke-width="0.8" /><text x="233.10" y="279.25" font-size="6.0" text-anchor="end" >30</text><line x1="233.88" y1="297.27" x2="236.30" y2="297.27" stroke="#333" stroke-width="0.8" /><text x="233.10" y="299.32" font-size="6.0" text-anchor="end" >20</text><line x1="233.88" y1="317.33" x2="236.30" y2="317.33" stroke="#333" stroke-width="0.8" /><text x="233.10" y="319.38" font-size="6.0" text-anchor="end" >10</text><line x1="233.88" y1="337.40" x2="236.30" y2="337.40" stroke="#333" stroke-width="0.8" /><text x="233.10" y="339.45" font-size="6.0" text-anchor="end" >0</text><line x1="233.88" y1="357.47" x2="236.30" y2="357.47" stroke="#333" stroke-width="0.8" /><text x="233.10" y="359.52" font-size="6.0" text-anchor="end" >-10</text><line x1="233.88" y1="377.53" x2="236.30" y2="377.53" stroke="#333" stroke-width="0.8" /><text x="233.10" y="379.58" font-size="6.0" text-anchor="end" >-20</text><line x1="233.88" y1="397.60" x2="236.30" y2="397.60" stroke="#333" stroke-width="0.8" /><text x="233.10" y="399.65" font-size="6.0" text-anchor="end" >-30</text><line x1="234.87" y1="287.23" x2="236.30" y2="287.23" stroke="#333" stroke-width="0.6" /><line x1="234.87" y1="307.30" x2="236.30" y2="307.30" stroke="#333" stroke-width="0.6" /><line x1="234.87" y1="327.37" x2="236.30" y2="327.37" stroke="#333" stroke-width="0.6" /><line x1="234.87" y1="347.43" x2="236.30" y2="347.43" stroke="#333" stroke-width="0.6" /><line x1="234.87" y1="367.50" x2="236.30" y2="367.50" stroke="#333" stroke-width="0.6" /><line x1="234.87" y1="387.57" x2="236.30" y2="387.57" stroke="#333" stroke-width="0.6" /><line x1="248.80" y1="337.40" x2="248.80" y2="339.82" stroke="#333" stroke-width="0.8" /><text x="248.80" y="346.00" font-size="6.0" text-anchor="middle" >10</text><line x1="271.62" y1="337.40" x2="271.62" y2="339.82" stroke="#333" stroke-width="0.8" /><text x="271.62" y="346.00" font-size="6.0" text-anchor="middle" >20</text><line x1="294.43" y1="337.40" x2="294.43" y2="339.82" stroke="#333" stroke-width="0.8" /><text x="294.43" y="346.00" font-size="6.0" text-anchor="middle" >30</text><line x1="317.25" y1="337.40" x2="317.25" y2="339.82" stroke="#333" stroke-width="0.8" /><text x="317.25" y="346.00" font-size="6.0" text-anchor="middle" >40</text><line x1="340.07" y1="337.40" x2="340.07" y2="339.82" stroke="#333" stroke-width="0.8" /><text x="340.07" y="346.00" font-size="6.0" text-anchor="middle" >50</text><line x1="362.88" y1="337.40" x2="362.88" y2="339.82" stroke="#333" stroke-width="0.8" /><text x="362.88" y="346.00" font-size="6.0" text-anchor="middle" >60</text><line x1="385.70" y1="337.40" x2="385.70" y2="339.82" stroke="#333" stroke-width="0.8" /><text x="385.70" y="346.00" font-size="6.0" text-anchor="middle" >70</text><line x1="260.21" y1="337.40" x2="260.21" y2="338.83" stroke="#333" stroke-width="0.6" /><line x1="283.02" y1="337.40" x2="283.02" y2="338.83" stroke="#333" stroke-width="0.6" /><line x1="305.84" y1="337.40" x2="305.84" y2="338.83" stroke="#333" stroke-width="0.6" /><line x1="328.66" y1="337.40" x2="328.66" y2="338.83" stroke="#333" stroke-width="0.6" /><line x1="351.48" y1="337.40" x2="351.48" y2="338.83" stroke="#333" stroke-width="0.6" /><line x1="374.29" y1="337.40" x2="374.29" y2="338.83" stroke="#333" stroke-width="0.6" /><path fill="#0000ff" d="M284.6 314.2h2.8v2.8h-2.8zM281.2 321.1h2.8v2.8h-2.8zM273.7 325.9h2.8v2.8h-2.8zM276.9 325.9h2.8v2.8h-2.8zM263.7 327.6h2.8v2.8h-2.8zM260.4 329.6h2.8v2.8h-2.8zM282.9 326.7h2.8v2.8h-2.8zM275.6 333.6h2.8v2.8h-2.8zM275.0 335.9h2.8v2.8h-2.8zM248.1 337.1h2.8v2.8h-2.8zM258.7 336.4h2.8v2.8h-2.8zM263.1 337.6h2.8v2.8h-2.8zM268.4 337.6h2.8v2.8h-2.8zM276.9 332.4h2.8v2.8h-2.8zM248.7 343.0h2.8v2.8h-2.8zM251.8 347.4h2.8v2.8h-2.8zM251.2 349.9h2.8v2.8h-2.8zM248.7 352.1h2.8v2.8h-2.8zM256.6 339.9h2.8v2.8h-2.8zM260.0 339.9h2.8v2.8h-2.8zM260.6 343.9h2.8v2.8h-2.8zM258.5 349.6h2.8v2.8h-2.8zM269.6 343.6h2.8v2.8h-2.8zM273.1 339.9h2.8v2.8h-2.8zM276.9 343.0h2.8v2.8h-2.8zM280.0 344.9h2.8v2.8h-2.8zM283.1 340.5h2.8v2.8h-2.8zM271.9 347.4h2.8v2.8h-2.8zM269.4 349.9h2.8v2.8h-2.8zM272.5 350.5h2.8v2.8h-2.8zM281.2 351.1h2.8v2.8h-2.8zM283.1 349.2h2.8v2.8h-2.8zM274.4 353.4h2.8v2.8h-2.8zM275.6 352.4h2.8v2.8h-2.8zM266.2 355.1h2.8v2.8h-2.8zM273.7 356.7h2.8v2.8h-2.8zM275.6 358.0h2.8v2.8h-2.8zM270.4 360.5h2.8v2.8h-2.8zM282.5 358.6h2.8v2.8h-2.8zM281.2 353.0h2.8v2.8h-2.8zM284.9 314.2h2.8v2.8h-2.8zM285.5 320.1h2.8v2.8h-2.8zM295.9 319.9h2.8v2.8h-2.8zM299.2 321.1h2.8v2.8h-2.8zM305.1 320.5h2.8v2.8h-2.8zM309.9 315.1h2.8v2.8h-2.8zM312.6 324.9h2.8v2.8h-2.8zM327.1 326.7h2.8v2.8h-2.8zM289.2 326.7h2.8v2.8h-2.8zM284.2 327.4h2.8v2.8h-2.8zM291.1 331.4h2.8v2.8h-2.8zM298.4 330.5h2.8v2.8h-2.8zM300.9 331.7h2.8v2.8h-2.8zM298.6 334.2h2.8v2.8h-2.8zM288.0 335.5h2.8v2.8h-2.8zM287.4 342.7h2.8v2.8h-2.8zM289.2 344.0h2.8v2.8h-2.8zM286.7 343.4h2.8v2.8h-2.8zM295.5 345.2h2.8v2.8h-2.8zM297.4 346.5h2.8v2.8h-2.8zM299.2 346.5h2.8v2.8h-2.8zM284.2 347.7h2.8v2.8h-2.8zM301.7 351.1h2.8v2.8h-2.8zM290.5 357.1h2.8v2.8h-2.8zM295.5 357.1h2.8v2.8h-2.8zM298.6 356.1h2.8v2.8h-2.8zM297.4 359.0h2.8v2.8h-2.8zM296.1 361.5h2.8v2.8h-2.8zM296.7 362.7h2.8v2.8h-2.8zM298.4 360.2h2.8v2.8h-2.8zM311.4 358.1h2.8v2.8h-2.8zM315.9 339.0h2.8v2.8h-2.8zM320.1 339.0h2.8v2.8h-2.8zM316.7 350.6h2.8v2.8h-2.8zM318.6 354.4h2.8v2.8h-2.8zM316.7 357.7h2.8v2.8h-2.8zM317.4 361.9h2.8v2.8h-2.8zM323.0 357.7h2.8v2.8h-2.8zM324.2 351.5h2.8v2.8h-2.8zM327.4 357.7h2.8v2.8h-2.8zM323.9 363.1h2.8v2.8h-2.8zM328.4 342.4h2.8v2.8h-2.8zM333.0 347.7h2.8v2.8h-2.8zM363.0 318.3h2.8v2.8h-2.8zM354.3 333.1h2.8v2.8h-2.8zM274.1 338.3h2.8v2.8h-2.8zM274.2 351.3h2.8v2.8h-2.8zM273.6 354.3h2.8v2.8h-2.8zM274.6 351.2h2.8v2.8h-2.8zM289.2 342.8h2.8v2.8h-2.8zM286.5 343.0h2.8v2.8h-2.8zM284.5 347.1h2.8v2.8h-2.8zM297.7 363.7h2.8v2.8h-2.8zM298.7 360.6h2.8v2.8h-2.8zM296.9 362.1h2.8v2.8h-2.8z"/><path fill="#ff0000" d="M282.2 302.0l1.75 3.15h-3.50zM283.2 304.3l1.75 3.15h-3.50zM278.9 309.3l1.75 3.15h-3.50zM282.6 311.8l1.75 3.15h-3.50zM275.1 312.8l1.75 3.15h-3.50zM276.8 314.3l1.75 3.15h-3.50zM274.5 317.0l1.75 3.15h-3.50zM260.1 315.3l1.75 3.15h-3.50zM265.1 317.8l1.75 3.15h-3.50zM269.2 316.8l1.75 3.15h-3.50zM278.2 317.8l1.75 3.15h-3.50zM277.0 321.5l1.75 3.15h-3.50zM278.9 319.9l1.75 3.15h-3.50zM271.4 323.0l1.75 3.15h-3.50zM267.6 324.5l1.75 3.15h-3.50zM259.5 324.5l1.75 3.15h-3.50zM262.0 325.5l1.75 3.15h-3.50zM276.8 325.5l1.75 3.15h-3.50zM277.0 329.3l1.75 3.15h-3.50zM285.8 326.8l1.75 3.15h-3.50zM285.5 321.8l1.75 3.15h-3.50zM283.9 330.5l1.75 3.15h-3.50zM273.9 331.1l1.75 3.15h-3.50zM274.5 332.4l1.75 3.15h-3.50zM257.6 333.0l1.75 3.15h-3.50zM262.0 334.9l1.75 3.15h-3.50zM264.8 334.9l1.75 3.15h-3.50zM268.2 334.9l1.75 3.15h-3.50zM270.8 334.3l1.75 3.15h-3.50zM281.4 336.8l1.75 3.15h-3.50zM252.6 337.0l1.75 3.15h-3.50zM252.6 338.0l1.75 3.15h-3.50zM253.2 341.8l1.75 3.15h-3.50zM249.5 343.0l1.75 3.15h-3.50zM249.5 345.5l1.75 3.15h-3.50zM247.6 348.6l1.75 3.15h-3.50zM285.1 341.8l1.75 3.15h-3.50zM277.0 340.8l1.75 3.15h-3.50zM278.2 345.5l1.75 3.15h-3.50zM282.0 346.8l1.75 3.15h-3.50zM285.1 349.3l1.75 3.15h-3.50zM269.5 348.0l1.75 3.15h-3.50zM272.0 355.5l1.75 3.15h-3.50zM272.6 358.0l1.75 3.15h-3.50zM275.8 355.5l1.75 3.15h-3.50zM275.1 363.6l1.75 3.15h-3.50zM274.5 333.6l1.75 3.15h-3.50zM299.8 299.0l1.75 3.15h-3.50zM298.5 303.3l1.75 3.15h-3.50zM300.2 303.3l1.75 3.15h-3.50zM301.0 307.8l1.75 3.15h-3.50zM303.1 310.3l1.75 3.15h-3.50zM312.8 300.5l1.75 3.15h-3.50zM318.5 304.5l1.75 3.15h-3.50zM325.6 302.8l1.75 3.15h-3.50zM318.1 311.5l1.75 3.15h-3.50zM297.5 312.4l1.75 3.15h-3.50zM298.8 313.6l1.75 3.15h-3.50zM290.6 314.3l1.75 3.15h-3.50zM286.9 315.8l1.75 3.15h-3.50zM297.5 316.5l1.75 3.15h-3.50zM300.6 319.5l1.75 3.15h-3.50zM314.0 320.3l1.75 3.15h-3.50zM328.5 319.3l1.75 3.15h-3.50zM328.5 324.5l1.75 3.15h-3.50zM292.5 321.8l1.75 3.15h-3.50zM290.0 321.5l1.75 3.15h-3.50zM285.6 321.8l1.75 3.15h-3.50zM306.2 325.5l1.75 3.15h-3.50zM296.9 326.5l1.75 3.15h-3.50zM287.5 326.1l1.75 3.15h-3.50zM291.2 327.4l1.75 3.15h-3.50zM288.8 328.0l1.75 3.15h-3.50zM290.0 330.3l1.75 3.15h-3.50zM300.6 332.4l1.75 3.15h-3.50zM301.9 334.3l1.75 3.15h-3.50zM321.2 334.9l1.75 3.15h-3.50zM285.6 342.1l1.75 3.15h-3.50zM285.6 349.6l1.75 3.15h-3.50zM286.2 352.5l1.75 3.15h-3.50zM291.2 350.0l1.75 3.15h-3.50zM311.2 364.0l1.75 3.15h-3.50zM316.9 339.6l1.75 3.15h-3.50zM318.1 351.8l1.75 3.15h-3.50zM325.6 353.8l1.75 3.15h-3.50zM324.4 364.6l1.75 3.15h-3.50zM329.4 346.3l1.75 3.15h-3.50zM334.4 349.6l1.75 3.15h-3.50zM364.4 325.6l1.75 3.15h-3.50zM339.6 335.3l1.75 3.15h-3.50zM277.0 314.3l1.75 3.15h-3.50zM278.4 314.9l1.75 3.15h-3.50zM276.5 316.0l1.75 3.15h-3.50zM277.9 318.2l1.75 3.15h-3.50zM277.8 323.0l1.75 3.15h-3.50zM284.9 321.7l1.75 3.15h-3.50zM276.0 331.7l1.75 3.15h-3.50zM274.9 332.1l1.75 3.15h-3.50zM269.3 334.1l1.75 3.15h-3.50zM253.5 341.9l1.75 3.15h-3.50zM251.2 341.0l1.75 3.15h-3.50zM283.4 345.6l1.75 3.15h-3.50zM274.8 333.4l1.75 3.15h-3.50zM301.0 307.7l1.75 3.15h-3.50zM298.9 311.5l1.75 3.15h-3.50zM289.6 322.9l1.75 3.15h-3.50zM287.4 324.9l1.75 3.15h-3.50zM286.8 326.4l1.75 3.15h-3.50zM290.8 332.0l1.75 3.15h-3.50z"/><text x="0" y="0" font-size="7.26" text-anchor="middle" textLength="87.5" lengthAdjust="spacingAndGlyphs" transform="translate(221.5,337.3) rotate(-90)">Residual values of DBH (cm)</text><text x="320.50" y="408.40" font-size="7.81" text-anchor="middle" textLength="90.8" lengthAdjust="spacingAndGlyphs" >Measured values of DBH (cm)</text><text x="224.20" y="279.40" font-size="7.04" text-anchor="end" textLength="12.0" lengthAdjust="spacingAndGlyphs" >CBF</text><path fill="#0000ff" d="M239.4 277.9h2.6v2.6h-2.6z"/><path fill="#ff0000" d="M240.7 285.3l1.55 2.79h-3.10z"/><text x="250.40" y="281.05" font-size="5.83" text-anchor="start" textLength="37.8" lengthAdjust="spacingAndGlyphs" >LSA-RANSAC</text><text x="250.40" y="288.85" font-size="5.83" text-anchor="start" textLength="23.3" lengthAdjust="spacingAndGlyphs" >RANSCA</text><line x1="41.50" y1="500.00" x2="153.20" y2="435.70" stroke="#2035ff" stroke-width="0.9" /><line x1="41.50" y1="503.00" x2="153.20" y2="441.40" stroke="#ff1a1a" stroke-width="0.9" /><path fill="#0000ff" d="M49.3 501.4h2.8v2.8h-2.8zM74.2 468.2h2.8v2.8h-2.8zM68.6 470.8h2.8v2.8h-2.8zM70.0 473.0h2.8v2.8h-2.8zM70.6 474.1h2.8v2.8h-2.8zM77.4 470.8h2.8v2.8h-2.8zM79.1 470.8h2.8v2.8h-2.8zM82.6 471.5h2.8v2.8h-2.8zM84.9 462.7h2.8v2.8h-2.8zM86.0 467.9h2.8v2.8h-2.8zM58.8 482.3h2.8v2.8h-2.8zM60.2 482.3h2.8v2.8h-2.8zM62.0 483.3h2.8v2.8h-2.8zM63.7 483.7h2.8v2.8h-2.8zM65.4 484.4h2.8v2.8h-2.8zM55.6 487.5h2.8v2.8h-2.8zM58.5 486.8h2.8v2.8h-2.8zM71.7 482.3h2.8v2.8h-2.8zM72.9 484.9h2.8v2.8h-2.8zM74.6 478.7h2.8v2.8h-2.8zM76.9 478.2h2.8v2.8h-2.8zM79.7 479.7h2.8v2.8h-2.8zM80.9 482.3h2.8v2.8h-2.8zM83.2 480.8h2.8v2.8h-2.8zM84.9 480.3h2.8v2.8h-2.8zM81.4 475.6h2.8v2.8h-2.8zM83.7 476.6h2.8v2.8h-2.8zM67.1 479.7h2.8v2.8h-2.8zM64.8 484.9h2.8v2.8h-2.8zM68.3 484.9h2.8v2.8h-2.8zM86.0 476.6h2.8v2.8h-2.8zM95.2 460.6h2.8v2.8h-2.8zM90.6 463.2h2.8v2.8h-2.8zM87.8 462.7h2.8v2.8h-2.8zM88.3 465.3h2.8v2.8h-2.8zM89.5 466.3h2.8v2.8h-2.8zM94.1 462.7h2.8v2.8h-2.8zM104.4 462.7h2.8v2.8h-2.8zM107.9 466.3h2.8v2.8h-2.8zM110.2 466.3h2.8v2.8h-2.8zM116.5 463.8h2.8v2.8h-2.8zM103.3 467.4h2.8v2.8h-2.8zM97.5 466.8h2.8v2.8h-2.8zM99.8 469.4h2.8v2.8h-2.8zM91.2 470.9h2.8v2.8h-2.8zM89.5 472.0h2.8v2.8h-2.8zM92.4 472.5h2.8v2.8h-2.8zM86.6 468.4h2.8v2.8h-2.8zM97.0 475.6h2.8v2.8h-2.8zM88.9 478.2h2.8v2.8h-2.8zM87.2 480.8h2.8v2.8h-2.8zM94.1 480.8h2.8v2.8h-2.8zM94.7 482.3h2.8v2.8h-2.8zM91.8 474.6h2.8v2.8h-2.8zM90.1 480.8h2.8v2.8h-2.8zM116.8 443.4h2.8v2.8h-2.8zM123.7 443.4h2.8v2.8h-2.8zM113.4 445.7h2.8v2.8h-2.8zM111.1 448.2h2.8v2.8h-2.8zM113.6 448.2h2.8v2.8h-2.8zM119.7 447.5h2.8v2.8h-2.8zM104.2 451.9h2.8v2.8h-2.8zM115.1 453.4h2.8v2.8h-2.8zM103.6 456.7h2.8v2.8h-2.8zM110.5 457.0h2.8v2.8h-2.8zM115.7 456.0h2.8v2.8h-2.8zM130.6 453.4h2.8v2.8h-2.8zM120.8 456.5h2.8v2.8h-2.8zM122.6 457.2h2.8v2.8h-2.8zM92.1 458.3h2.8v2.8h-2.8zM95.0 457.9h2.8v2.8h-2.8zM112.8 457.2h2.8v2.8h-2.8zM144.4 431.1h2.8v2.8h-2.8zM152.1 438.8h2.8v2.8h-2.8zM141.9 444.4h2.8v2.8h-2.8zM150.5 443.5h2.8v2.8h-2.8zM82.4 471.8h2.8v2.8h-2.8zM87.3 469.1h2.8v2.8h-2.8zM57.4 482.4h2.8v2.8h-2.8zM59.2 484.0h2.8v2.8h-2.8zM65.1 484.0h2.8v2.8h-2.8zM64.5 485.0h2.8v2.8h-2.8zM59.2 487.3h2.8v2.8h-2.8zM72.8 484.1h2.8v2.8h-2.8zM81.3 479.0h2.8v2.8h-2.8zM86.7 479.6h2.8v2.8h-2.8zM83.1 474.9h2.8v2.8h-2.8zM83.5 475.1h2.8v2.8h-2.8zM66.2 483.7h2.8v2.8h-2.8zM67.9 483.2h2.8v2.8h-2.8zM87.3 477.2h2.8v2.8h-2.8zM96.7 459.4h2.8v2.8h-2.8zM90.1 463.6h2.8v2.8h-2.8zM88.9 461.2h2.8v2.8h-2.8zM89.6 466.9h2.8v2.8h-2.8zM89.2 465.4h2.8v2.8h-2.8zM94.6 461.5h2.8v2.8h-2.8zM91.0 469.7h2.8v2.8h-2.8zM90.8 473.0h2.8v2.8h-2.8zM86.0 468.2h2.8v2.8h-2.8zM89.8 477.6h2.8v2.8h-2.8zM85.5 480.6h2.8v2.8h-2.8zM91.4 475.9h2.8v2.8h-2.8zM89.0 480.9h2.8v2.8h-2.8zM40.9 505.9h2.8v2.8h-2.8zM45.1 497.1h2.8v2.8h-2.8zM51.4 492.8h2.8v2.8h-2.8zM54.6 494.0h2.8v2.8h-2.8zM57.7 492.0h2.8v2.8h-2.8zM58.3 488.4h2.8v2.8h-2.8zM60.4 480.8h2.8v2.8h-2.8zM61.4 486.7h2.8v2.8h-2.8zM63.0 489.0h2.8v2.8h-2.8zM64.6 484.9h2.8v2.8h-2.8zM66.1 485.5h2.8v2.8h-2.8zM67.7 486.1h2.8v2.8h-2.8zM66.7 469.2h2.8v2.8h-2.8zM66.1 475.8h2.8v2.8h-2.8zM69.8 473.1h2.8v2.8h-2.8zM72.5 472.5h2.8v2.8h-2.8zM75.7 472.7h2.8v2.8h-2.8zM73.5 474.9h2.8v2.8h-2.8zM70.9 483.1h2.8v2.8h-2.8zM73.5 482.0h2.8v2.8h-2.8zM75.1 480.2h2.8v2.8h-2.8zM77.2 479.0h2.8v2.8h-2.8zM71.9 488.4h2.8v2.8h-2.8zM73.5 491.4h2.8v2.8h-2.8zM68.8 488.4h2.8v2.8h-2.8zM65.6 489.7h2.8v2.8h-2.8zM62.5 492.0h2.8v2.8h-2.8zM61.4 488.4h2.8v2.8h-2.8zM80.9 472.5h2.8v2.8h-2.8zM82.5 473.7h2.8v2.8h-2.8zM84.1 472.5h2.8v2.8h-2.8zM85.6 473.7h2.8v2.8h-2.8zM88.3 472.5h2.8v2.8h-2.8zM89.8 471.9h2.8v2.8h-2.8zM87.2 470.1h2.8v2.8h-2.8zM92.5 468.4h2.8v2.8h-2.8zM79.3 478.4h2.8v2.8h-2.8zM78.8 480.8h2.8v2.8h-2.8zM85.1 482.6h2.8v2.8h-2.8zM96.7 479.0h2.8v2.8h-2.8zM100.4 476.3h2.8v2.8h-2.8zM111.1 473.7h2.8v2.8h-2.8zM102.3 488.1h2.8v2.8h-2.8zM79.3 488.4h2.8v2.8h-2.8zM97.2 471.9h2.8v2.8h-2.8zM80.4 475.8h2.8v2.8h-2.8zM86.2 458.3h2.8v2.8h-2.8zM86.2 462.1h2.8v2.8h-2.8zM88.8 462.1h2.8v2.8h-2.8zM88.3 465.7h2.8v2.8h-2.8zM90.9 466.0h2.8v2.8h-2.8zM93.8 466.4h2.8v2.8h-2.8zM99.0 458.3h2.8v2.8h-2.8zM100.6 458.0h2.8v2.8h-2.8zM99.8 462.8h2.8v2.8h-2.8zM99.1 451.0h2.8v2.8h-2.8zM103.0 448.7h2.8v2.8h-2.8zM101.9 452.2h2.8v2.8h-2.8zM115.9 454.2h2.8v2.8h-2.8zM118.8 443.9h2.8v2.8h-2.8zM118.8 446.5h2.8v2.8h-2.8zM118.2 465.4h2.8v2.8h-2.8zM120.9 450.3h2.8v2.8h-2.8zM121.2 456.0h2.8v2.8h-2.8zM127.0 458.0h2.8v2.8h-2.8zM61.2 488.5h2.8v2.8h-2.8zM65.7 485.7h2.8v2.8h-2.8zM73.3 473.5h2.8v2.8h-2.8zM76.3 478.4h2.8v2.8h-2.8zM71.6 489.9h2.8v2.8h-2.8zM67.2 490.2h2.8v2.8h-2.8zM64.3 493.9h2.8v2.8h-2.8zM61.1 486.9h2.8v2.8h-2.8zM81.3 471.1h2.8v2.8h-2.8zM82.9 473.8h2.8v2.8h-2.8zM90.7 469.3h2.8v2.8h-2.8zM88.3 462.9h2.8v2.8h-2.8zM89.9 465.5h2.8v2.8h-2.8zM83.5 466.1h2.8v2.8h-2.8zM78.5 469.3h2.8v2.8h-2.8zM82.8 473.3h2.8v2.8h-2.8zM71.3 472.4h2.8v2.8h-2.8zM65.3 476.8h2.8v2.8h-2.8zM60.9 478.4h2.8v2.8h-2.8zM70.3 477.4h2.8v2.8h-2.8zM74.1 478.0h2.8v2.8h-2.8zM77.2 478.8h2.8v2.8h-2.8zM80.3 477.2h2.8v2.8h-2.8zM57.8 483.4h2.8v2.8h-2.8zM62.1 482.8h2.8v2.8h-2.8zM64.0 484.6h2.8v2.8h-2.8zM67.1 482.8h2.8v2.8h-2.8zM69.0 483.4h2.8v2.8h-2.8zM71.0 482.2h2.8v2.8h-2.8zM72.8 481.0h2.8v2.8h-2.8zM76.6 482.8h2.8v2.8h-2.8zM79.1 484.6h2.8v2.8h-2.8zM60.9 488.7h2.8v2.8h-2.8zM64.0 489.9h2.8v2.8h-2.8zM65.9 491.7h2.8v2.8h-2.8zM59.0 492.9h2.8v2.8h-2.8zM50.9 490.7h2.8v2.8h-2.8zM52.8 493.8h2.8v2.8h-2.8zM42.1 495.3h2.8v2.8h-2.8zM44.6 495.5h2.8v2.8h-2.8zM42.8 498.2h2.8v2.8h-2.8zM45.3 500.0h2.8v2.8h-2.8zM41.5 504.2h2.8v2.8h-2.8zM49.0 497.6h2.8v2.8h-2.8zM52.1 496.4h2.8v2.8h-2.8zM55.9 501.2h2.8v2.8h-2.8zM70.3 496.7h2.8v2.8h-2.8zM74.1 499.4h2.8v2.8h-2.8zM81.6 495.8h2.8v2.8h-2.8zM83.5 488.7h2.8v2.8h-2.8zM64.0 497.1h2.8v2.8h-2.8zM85.3 464.9h2.8v2.8h-2.8zM88.5 466.9h2.8v2.8h-2.8zM86.0 471.5h2.8v2.8h-2.8zM84.7 473.3h2.8v2.8h-2.8zM86.6 478.6h2.8v2.8h-2.8zM97.8 477.4h2.8v2.8h-2.8zM84.7 481.6h2.8v2.8h-2.8zM91.0 484.3h2.8v2.8h-2.8zM95.3 484.8h2.8v2.8h-2.8zM100.4 466.7h2.8v2.8h-2.8zM104.1 464.9h2.8v2.8h-2.8zM110.4 468.5h2.8v2.8h-2.8zM107.9 447.4h2.8v2.8h-2.8zM110.6 448.9h2.8v2.8h-2.8zM101.6 451.9h2.8v2.8h-2.8zM106.6 451.5h2.8v2.8h-2.8zM101.4 454.6h2.8v2.8h-2.8zM102.9 455.8h2.8v2.8h-2.8zM108.1 454.8h2.8v2.8h-2.8zM96.6 457.8h2.8v2.8h-2.8zM101.6 459.0h2.8v2.8h-2.8zM111.4 458.4h2.8v2.8h-2.8zM116.0 451.9h2.8v2.8h-2.8zM120.1 448.2h2.8v2.8h-2.8zM84.1 462.2h2.8v2.8h-2.8zM134.0 449.7h2.8v2.8h-2.8zM141.4 454.3h2.8v2.8h-2.8zM71.2 478.1h2.8v2.8h-2.8zM76.1 479.8h2.8v2.8h-2.8zM64.9 484.1h2.8v2.8h-2.8zM67.8 485.0h2.8v2.8h-2.8zM69.9 483.4h2.8v2.8h-2.8zM76.8 483.5h2.8v2.8h-2.8zM61.6 487.1h2.8v2.8h-2.8zM62.2 488.7h2.8v2.8h-2.8zM47.4 499.8h2.8v2.8h-2.8zM101.7 455.1h2.8v2.8h-2.8zM101.1 457.3h2.8v2.8h-2.8z"/><path fill="#ff0000" d="M50.7 489.8l1.75 3.15h-3.50zM51.3 492.6l1.75 3.15h-3.50zM60.2 495.0l1.75 3.15h-3.50zM57.0 492.6l1.75 3.15h-3.50zM58.8 486.9l1.75 3.15h-3.50zM61.6 487.4l1.75 3.15h-3.50zM62.8 489.5l1.75 3.15h-3.50zM63.9 491.8l1.75 3.15h-3.50zM66.8 493.6l1.75 3.15h-3.50zM65.1 487.4l1.75 3.15h-3.50zM67.4 490.0l1.75 3.15h-3.50zM69.1 485.9l1.75 3.15h-3.50zM70.8 487.4l1.75 3.15h-3.50zM72.6 490.0l1.75 3.15h-3.50zM73.1 489.0l1.75 3.15h-3.50zM74.3 486.9l1.75 3.15h-3.50zM76.6 484.8l1.75 3.15h-3.50zM77.7 482.3l1.75 3.15h-3.50zM80.0 485.9l1.75 3.15h-3.50zM80.5 487.4l1.75 3.15h-3.50zM82.3 485.9l1.75 3.15h-3.50zM83.4 484.3l1.75 3.15h-3.50zM86.3 481.8l1.75 3.15h-3.50zM87.4 483.3l1.75 3.15h-3.50zM86.9 489.0l1.75 3.15h-3.50zM70.3 476.1l1.75 3.15h-3.50zM72.0 477.7l1.75 3.15h-3.50zM73.7 476.6l1.75 3.15h-3.50zM70.8 469.9l1.75 3.15h-3.50zM75.4 473.0l1.75 3.15h-3.50zM77.1 474.5l1.75 3.15h-3.50zM78.8 475.1l1.75 3.15h-3.50zM80.0 472.5l1.75 3.15h-3.50zM80.0 478.2l1.75 3.15h-3.50zM81.7 479.7l1.75 3.15h-3.50zM83.4 477.7l1.75 3.15h-3.50zM84.6 474.0l1.75 3.15h-3.50zM85.7 475.6l1.75 3.15h-3.50zM86.9 469.9l1.75 3.15h-3.50zM87.4 472.0l1.75 3.15h-3.50zM81.1 462.7l1.75 3.15h-3.50zM83.4 464.2l1.75 3.15h-3.50zM81.1 465.3l1.75 3.15h-3.50zM86.3 464.7l1.75 3.15h-3.50zM68.5 482.3l1.75 3.15h-3.50zM70.3 480.2l1.75 3.15h-3.50zM65.7 480.2l1.75 3.15h-3.50zM94.9 459.6l1.75 3.15h-3.50zM123.6 460.1l1.75 3.15h-3.50zM117.3 466.3l1.75 3.15h-3.50zM111.0 466.8l1.75 3.15h-3.50zM114.4 463.7l1.75 3.15h-3.50zM104.7 470.4l1.75 3.15h-3.50zM105.8 472.0l1.75 3.15h-3.50zM101.8 467.8l1.75 3.15h-3.50zM99.5 470.9l1.75 3.15h-3.50zM93.8 466.8l1.75 3.15h-3.50zM95.5 471.5l1.75 3.15h-3.50zM88.0 469.9l1.75 3.15h-3.50zM89.2 473.0l1.75 3.15h-3.50zM88.0 474.5l1.75 3.15h-3.50zM93.2 477.7l1.75 3.15h-3.50zM100.1 477.1l1.75 3.15h-3.50zM104.7 477.1l1.75 3.15h-3.50zM92.0 480.2l1.75 3.15h-3.50zM93.8 481.3l1.75 3.15h-3.50zM92.0 482.3l1.75 3.15h-3.50zM96.6 483.9l1.75 3.15h-3.50zM88.0 482.8l1.75 3.15h-3.50zM105.8 482.8l1.75 3.15h-3.50zM90.3 486.4l1.75 3.15h-3.50zM96.1 488.5l1.75 3.15h-3.50zM118.5 489.5l1.75 3.15h-3.50zM89.2 494.2l1.75 3.15h-3.50zM112.5 443.9l1.75 3.15h-3.50zM117.9 447.0l1.75 3.15h-3.50zM121.1 450.3l1.75 3.15h-3.50zM105.0 452.4l1.75 3.15h-3.50zM112.1 454.4l1.75 3.15h-3.50zM132.0 448.2l1.75 3.15h-3.50zM96.4 457.0l1.75 3.15h-3.50zM90.1 458.0l1.75 3.15h-3.50zM92.4 458.8l1.75 3.15h-3.50zM108.5 458.3l1.75 3.15h-3.50zM116.5 456.5l1.75 3.15h-3.50zM145.8 432.3l1.75 3.15h-3.50zM151.9 448.4l1.75 3.15h-3.50zM153.5 451.7l1.75 3.15h-3.50zM143.5 458.9l1.75 3.15h-3.50zM125.4 427.7l1.75 3.15h-3.50zM63.9 491.0l1.75 3.15h-3.50zM64.5 493.2l1.75 3.15h-3.50zM66.0 489.7l1.75 3.15h-3.50zM70.1 489.1l1.75 3.15h-3.50zM71.4 489.4l1.75 3.15h-3.50zM74.0 487.4l1.75 3.15h-3.50zM76.0 482.6l1.75 3.15h-3.50zM78.4 484.8l1.75 3.15h-3.50zM79.7 488.1l1.75 3.15h-3.50zM81.9 482.6l1.75 3.15h-3.50zM72.6 474.8l1.75 3.15h-3.50zM74.6 471.7l1.75 3.15h-3.50zM77.6 474.3l1.75 3.15h-3.50zM79.4 475.3l1.75 3.15h-3.50zM78.6 474.0l1.75 3.15h-3.50zM83.7 480.0l1.75 3.15h-3.50zM81.9 478.1l1.75 3.15h-3.50zM84.3 475.8l1.75 3.15h-3.50zM88.4 468.1l1.75 3.15h-3.50zM86.7 472.8l1.75 3.15h-3.50zM89.1 468.3l1.75 3.15h-3.50zM87.6 472.8l1.75 3.15h-3.50zM86.3 475.4l1.75 3.15h-3.50zM91.0 478.7l1.75 3.15h-3.50zM93.0 479.6l1.75 3.15h-3.50zM90.9 482.3l1.75 3.15h-3.50zM86.1 483.4l1.75 3.15h-3.50zM88.9 485.7l1.75 3.15h-3.50zM42.6 503.3l1.75 3.15h-3.50zM42.8 502.1l1.75 3.15h-3.50zM46.5 509.1l1.75 3.15h-3.50zM50.2 500.5l1.75 3.15h-3.50zM53.4 500.5l1.75 3.15h-3.50zM56.0 497.3l1.75 3.15h-3.50zM54.4 494.4l1.75 3.15h-3.50zM57.6 493.8l1.75 3.15h-3.50zM59.7 495.6l1.75 3.15h-3.50zM59.7 499.7l1.75 3.15h-3.50zM59.7 502.1l1.75 3.15h-3.50zM62.3 497.0l1.75 3.15h-3.50zM63.9 499.7l1.75 3.15h-3.50zM62.8 504.1l1.75 3.15h-3.50zM61.2 490.9l1.75 3.15h-3.50zM62.8 490.2l1.75 3.15h-3.50zM64.9 490.2l1.75 3.15h-3.50zM66.5 491.5l1.75 3.15h-3.50zM67.0 487.3l1.75 3.15h-3.50zM68.6 489.1l1.75 3.15h-3.50zM65.4 492.0l1.75 3.15h-3.50zM67.5 478.4l1.75 3.15h-3.50zM71.7 477.3l1.75 3.15h-3.50zM74.4 478.4l1.75 3.15h-3.50zM74.9 468.4l1.75 3.15h-3.50zM76.5 475.5l1.75 3.15h-3.50zM77.1 481.4l1.75 3.15h-3.50zM78.1 483.8l1.75 3.15h-3.50zM76.0 485.5l1.75 3.15h-3.50zM72.3 485.5l1.75 3.15h-3.50zM70.7 490.2l1.75 3.15h-3.50zM71.7 491.5l1.75 3.15h-3.50zM72.8 495.6l1.75 3.15h-3.50zM77.1 491.5l1.75 3.15h-3.50zM78.6 487.3l1.75 3.15h-3.50zM81.8 479.0l1.75 3.15h-3.50zM80.7 483.2l1.75 3.15h-3.50zM83.4 477.9l1.75 3.15h-3.50zM88.6 477.3l1.75 3.15h-3.50zM89.7 474.3l1.75 3.15h-3.50zM92.3 472.6l1.75 3.15h-3.50zM95.4 471.3l1.75 3.15h-3.50zM100.2 479.7l1.75 3.15h-3.50zM97.6 478.4l1.75 3.15h-3.50zM95.4 483.5l1.75 3.15h-3.50zM103.3 486.7l1.75 3.15h-3.50zM117.5 484.9l1.75 3.15h-3.50zM85.5 487.9l1.75 3.15h-3.50zM86.5 486.1l1.75 3.15h-3.50zM89.7 487.9l1.75 3.15h-3.50zM86.5 490.2l1.75 3.15h-3.50zM87.6 492.0l1.75 3.15h-3.50zM89.1 487.3l1.75 3.15h-3.50zM102.3 467.8l1.75 3.15h-3.50zM103.9 470.8l1.75 3.15h-3.50zM104.9 467.8l1.75 3.15h-3.50zM96.5 468.4l1.75 3.15h-3.50zM80.9 461.9l1.75 3.15h-3.50zM80.9 465.1l1.75 3.15h-3.50zM92.3 457.8l1.75 3.15h-3.50zM91.8 462.7l1.75 3.15h-3.50zM90.2 465.1l1.75 3.15h-3.50zM98.1 461.3l1.75 3.15h-3.50zM98.6 463.9l1.75 3.15h-3.50zM99.1 456.0l1.75 3.15h-3.50zM101.8 446.9l1.75 3.15h-3.50zM103.3 449.0l1.75 3.15h-3.50zM104.4 453.1l1.75 3.15h-3.50zM100.7 452.8l1.75 3.15h-3.50zM112.5 448.6l1.75 3.15h-3.50zM119.6 451.3l1.75 3.15h-3.50zM120.2 461.1l1.75 3.15h-3.50zM110.2 465.1l1.75 3.15h-3.50zM101.8 467.2l1.75 3.15h-3.50zM103.9 467.5l1.75 3.15h-3.50zM122.6 458.7l1.75 3.15h-3.50zM120.0 461.0l1.75 3.15h-3.50zM120.4 464.4l1.75 3.15h-3.50zM122.3 467.0l1.75 3.15h-3.50zM128.2 464.9l1.75 3.15h-3.50zM55.8 495.9l1.75 3.15h-3.50zM58.3 496.2l1.75 3.15h-3.50zM61.1 498.6l1.75 3.15h-3.50zM61.6 492.7l1.75 3.15h-3.50zM68.4 487.7l1.75 3.15h-3.50zM67.5 490.6l1.75 3.15h-3.50zM87.2 487.1l1.75 3.15h-3.50zM88.8 492.7l1.75 3.15h-3.50zM87.5 487.4l1.75 3.15h-3.50zM103.9 467.9l1.75 3.15h-3.50zM65.4 473.1l1.75 3.15h-3.50zM74.2 475.4l1.75 3.15h-3.50zM79.2 472.7l1.75 3.15h-3.50zM62.3 479.9l1.75 3.15h-3.50zM65.4 479.2l1.75 3.15h-3.50zM71.7 478.6l1.75 3.15h-3.50zM67.9 482.8l1.75 3.15h-3.50zM60.4 485.8l1.75 3.15h-3.50zM64.2 486.4l1.75 3.15h-3.50zM70.4 485.8l1.75 3.15h-3.50zM73.0 484.6l1.75 3.15h-3.50zM76.1 487.6l1.75 3.15h-3.50zM78.6 485.8l1.75 3.15h-3.50zM81.1 487.6l1.75 3.15h-3.50zM83.6 485.8l1.75 3.15h-3.50zM84.2 483.4l1.75 3.15h-3.50zM73.0 489.9l1.75 3.15h-3.50zM75.5 491.1l1.75 3.15h-3.50zM78.6 491.8l1.75 3.15h-3.50zM81.7 490.5l1.75 3.15h-3.50zM66.7 492.9l1.75 3.15h-3.50zM68.5 494.1l1.75 3.15h-3.50zM64.2 492.9l1.75 3.15h-3.50zM61.0 494.7l1.75 3.15h-3.50zM57.3 495.3l1.75 3.15h-3.50zM54.8 497.7l1.75 3.15h-3.50zM57.9 498.3l1.75 3.15h-3.50zM61.7 499.5l1.75 3.15h-3.50zM66.0 496.5l1.75 3.15h-3.50zM67.9 498.3l1.75 3.15h-3.50zM72.4 499.5l1.75 3.15h-3.50zM76.7 495.9l1.75 3.15h-3.50zM78.6 497.1l1.75 3.15h-3.50zM41.0 497.3l1.75 3.15h-3.50zM42.9 498.3l1.75 3.15h-3.50zM44.8 499.5l1.75 3.15h-3.50zM50.4 501.6l1.75 3.15h-3.50zM53.5 503.0l1.75 3.15h-3.50zM52.3 504.8l1.75 3.15h-3.50zM57.3 507.2l1.75 3.15h-3.50zM60.4 505.4l1.75 3.15h-3.50zM64.2 502.4l1.75 3.15h-3.50zM66.0 504.8l1.75 3.15h-3.50zM67.3 503.0l1.75 3.15h-3.50zM71.7 502.4l1.75 3.15h-3.50zM72.4 506.0l1.75 3.15h-3.50zM71.0 508.4l1.75 3.15h-3.50zM52.3 510.8l1.75 3.15h-3.50zM83.0 492.9l1.75 3.15h-3.50zM88.6 476.2l1.75 3.15h-3.50zM87.4 478.6l1.75 3.15h-3.50zM92.4 479.2l1.75 3.15h-3.50zM98.6 479.2l1.75 3.15h-3.50zM103.0 481.9l1.75 3.15h-3.50zM109.0 483.4l1.75 3.15h-3.50zM103.0 486.1l1.75 3.15h-3.50zM98.0 491.8l1.75 3.15h-3.50zM87.7 486.4l1.75 3.15h-3.50zM87.4 488.8l1.75 3.15h-3.50zM89.9 491.1l1.75 3.15h-3.50zM88.0 493.5l1.75 3.15h-3.50zM86.1 491.8l1.75 3.15h-3.50zM86.7 496.5l1.75 3.15h-3.50zM86.7 498.9l1.75 3.15h-3.50zM111.8 471.9l1.75 3.15h-3.50zM104.3 465.9l1.75 3.15h-3.50zM101.8 465.6l1.75 3.15h-3.50zM111.5 467.6l1.75 3.15h-3.50zM108.0 446.2l1.75 3.15h-3.50zM96.7 453.7l1.75 3.15h-3.50zM109.3 452.5l1.75 3.15h-3.50zM112.8 454.5l1.75 3.15h-3.50zM117.4 450.1l1.75 3.15h-3.50zM121.1 456.1l1.75 3.15h-3.50zM102.8 457.2l1.75 3.15h-3.50zM135.4 444.7l1.75 3.15h-3.50zM142.8 448.7l1.75 3.15h-3.50zM75.1 483.3l1.75 3.15h-3.50zM79.7 484.3l1.75 3.15h-3.50zM74.6 492.0l1.75 3.15h-3.50zM75.5 493.1l1.75 3.15h-3.50zM80.9 492.4l1.75 3.15h-3.50zM67.8 494.3l1.75 3.15h-3.50zM67.8 493.3l1.75 3.15h-3.50zM63.6 494.5l1.75 3.15h-3.50zM59.7 496.5l1.75 3.15h-3.50zM62.4 500.7l1.75 3.15h-3.50zM54.6 504.8l1.75 3.15h-3.50zM64.2 501.0l1.75 3.15h-3.50zM67.3 503.7l1.75 3.15h-3.50zM83.0 495.0l1.75 3.15h-3.50zM86.2 489.3l1.75 3.15h-3.50zM90.5 491.8l1.75 3.15h-3.50zM89.3 493.1l1.75 3.15h-3.50zM87.5 490.7l1.75 3.15h-3.50zM87.1 496.2l1.75 3.15h-3.50z"/><path d="M41.50 497.80L46.15 495.30L50.81 492.79L55.46 490.28L60.12 487.76L64.77 485.23L69.42 482.69L74.08 480.14L78.73 477.56L83.39 474.95L88.04 472.31L92.70 469.62L97.35 466.89L102.00 464.13L106.66 461.35L111.31 458.54L115.97 455.71L120.62 452.88L125.27 450.04L129.93 447.19L134.58 444.34L139.24 441.48L143.89 438.62L148.55 435.76L153.20 432.90L153.20 438.50L148.55 441.00L143.89 443.49L139.24 445.99L134.58 448.50L129.93 451.00L125.27 453.51L120.62 456.03L115.97 458.55L111.31 461.09L106.66 463.64L102.00 466.21L97.35 468.81L92.70 471.44L88.04 474.11L83.39 476.82L78.73 479.57L74.08 482.36L69.42 485.16L64.77 487.98L60.12 490.81L55.46 493.65L50.81 496.49L46.15 499.35L41.50 502.20Z" fill="rgba(60,75,255,0.38)"/><path d="M41.50 500.70L46.15 498.33L50.81 495.95L55.46 493.57L60.12 491.18L64.77 488.78L69.42 486.36L74.08 483.93L78.73 481.47L83.39 478.98L88.04 476.43L92.70 473.84L97.35 471.20L102.00 468.53L106.66 465.83L111.31 463.11L115.97 460.38L120.62 457.63L125.27 454.88L129.93 452.12L134.58 449.36L139.24 446.60L143.89 443.84L148.55 441.07L153.20 438.30L153.20 444.50L148.55 446.86L143.89 449.23L139.24 451.60L134.58 453.97L129.93 456.34L125.27 458.72L120.62 461.10L115.97 463.49L111.31 465.89L106.66 468.30L102.00 470.74L97.35 473.20L92.70 475.69L88.04 478.23L83.39 480.82L78.73 483.46L74.08 486.13L69.42 488.84L64.77 491.56L60.12 494.29L55.46 497.03L50.81 499.78L46.15 502.54L41.50 505.30Z" fill="rgba(255,60,60,0.36)"/><line x1="32.20" y1="420.60" x2="32.20" y2="525.95" stroke="#333" stroke-width="0.9" /><line x1="31.75" y1="525.50" x2="161.50" y2="525.50" stroke="#333" stroke-width="0.9" /><line x1="30.00" y1="519.50" x2="32.20" y2="519.50" stroke="#333" stroke-width="0.8" /><text x="29.10" y="521.50" font-size="6.0" text-anchor="end" >0</text><line x1="30.00" y1="507.19" x2="32.20" y2="507.19" stroke="#333" stroke-width="0.8" /><text x="29.10" y="509.19" font-size="6.0" text-anchor="end" >10</text><line x1="30.00" y1="494.88" x2="32.20" y2="494.88" stroke="#333" stroke-width="0.8" /><text x="29.10" y="496.88" font-size="6.0" text-anchor="end" >20</text><line x1="30.00" y1="482.56" x2="32.20" y2="482.56" stroke="#333" stroke-width="0.8" /><text x="29.10" y="484.56" font-size="6.0" text-anchor="end" >30</text><line x1="30.00" y1="470.25" x2="32.20" y2="470.25" stroke="#333" stroke-width="0.8" /><text x="29.10" y="472.25" font-size="6.0" text-anchor="end" >40</text><line x1="30.00" y1="457.94" x2="32.20" y2="457.94" stroke="#333" stroke-width="0.8" /><text x="29.10" y="459.94" font-size="6.0" text-anchor="end" >50</text><line x1="30.00" y1="445.62" x2="32.20" y2="445.62" stroke="#333" stroke-width="0.8" /><text x="29.10" y="447.62" font-size="6.0" text-anchor="end" >60</text><line x1="30.00" y1="433.31" x2="32.20" y2="433.31" stroke="#333" stroke-width="0.8" /><text x="29.10" y="435.31" font-size="6.0" text-anchor="end" >70</text><line x1="30.00" y1="421.00" x2="32.20" y2="421.00" stroke="#333" stroke-width="0.8" /><text x="29.10" y="423.00" font-size="6.0" text-anchor="end" >80</text><line x1="30.90" y1="513.34" x2="32.20" y2="513.34" stroke="#333" stroke-width="0.6" /><line x1="30.90" y1="501.03" x2="32.20" y2="501.03" stroke="#333" stroke-width="0.6" /><line x1="30.90" y1="488.72" x2="32.20" y2="488.72" stroke="#333" stroke-width="0.6" /><line x1="30.90" y1="476.41" x2="32.20" y2="476.41" stroke="#333" stroke-width="0.6" /><line x1="30.90" y1="464.09" x2="32.20" y2="464.09" stroke="#333" stroke-width="0.6" /><line x1="30.90" y1="451.78" x2="32.20" y2="451.78" stroke="#333" stroke-width="0.6" /><line x1="30.90" y1="439.47" x2="32.20" y2="439.47" stroke="#333" stroke-width="0.6" /><line x1="30.90" y1="427.16" x2="32.20" y2="427.16" stroke="#333" stroke-width="0.6" /><line x1="42.20" y1="525.50" x2="42.20" y2="527.70" stroke="#333" stroke-width="0.8" /><text x="42.20" y="532.90" font-size="6.0" text-anchor="middle" >10</text><line x1="62.02" y1="525.50" x2="62.02" y2="527.70" stroke="#333" stroke-width="0.8" /><text x="62.02" y="532.90" font-size="6.0" text-anchor="middle" >20</text><line x1="81.83" y1="525.50" x2="81.83" y2="527.70" stroke="#333" stroke-width="0.8" /><text x="81.83" y="532.90" font-size="6.0" text-anchor="middle" >30</text><line x1="101.65" y1="525.50" x2="101.65" y2="527.70" stroke="#333" stroke-width="0.8" /><text x="101.65" y="532.90" font-size="6.0" text-anchor="middle" >40</text><line x1="121.47" y1="525.50" x2="121.47" y2="527.70" stroke="#333" stroke-width="0.8" /><text x="121.47" y="532.90" font-size="6.0" text-anchor="middle" >50</text><line x1="141.28" y1="525.50" x2="141.28" y2="527.70" stroke="#333" stroke-width="0.8" /><text x="141.28" y="532.90" font-size="6.0" text-anchor="middle" >60</text><line x1="161.10" y1="525.50" x2="161.10" y2="527.70" stroke="#333" stroke-width="0.8" /><text x="161.10" y="532.90" font-size="6.0" text-anchor="middle" >70</text><line x1="52.11" y1="525.50" x2="52.11" y2="526.80" stroke="#333" stroke-width="0.6" /><line x1="71.92" y1="525.50" x2="71.92" y2="526.80" stroke="#333" stroke-width="0.6" /><line x1="91.74" y1="525.50" x2="91.74" y2="526.80" stroke="#333" stroke-width="0.6" /><line x1="111.56" y1="525.50" x2="111.56" y2="526.80" stroke="#333" stroke-width="0.6" /><line x1="131.38" y1="525.50" x2="131.38" y2="526.80" stroke="#333" stroke-width="0.6" /><line x1="151.19" y1="525.50" x2="151.19" y2="526.80" stroke="#333" stroke-width="0.6" /><text x="0" y="0" font-size="6.6" text-anchor="middle" textLength="78.3" lengthAdjust="spacingAndGlyphs" transform="translate(20.3,473.1) rotate(-90)">Estimated values of DBH (cm)</text><text x="96.60" y="541.80" font-size="7.1" text-anchor="middle" textLength="78.4" lengthAdjust="spacingAndGlyphs" >Measured values of DBH (cm)</text><text x="21.40" y="423.20" font-size="6.4" text-anchor="end" textLength="12.0" lengthAdjust="spacingAndGlyphs" >Total</text><path fill="#0000ff" d="M34.3 421.0h2.6v2.6h-2.6z"/><path fill="#ff0000" d="M35.6 428.3l1.55 2.79h-3.10z"/><text x="43.60" y="424.15" font-size="5.3" text-anchor="start" textLength="33.2" lengthAdjust="spacingAndGlyphs" >LSA-RANSAC</text><text x="43.60" y="431.85" font-size="5.3" text-anchor="start" textLength="20.6" lengthAdjust="spacingAndGlyphs" >RANSCA</text><line x1="242.30" y1="458.10" x2="379.80" y2="458.10" stroke="#4a4a4a" stroke-width="1.0" stroke-dasharray="3 2.55"/><line x1="242.30" y1="494.90" x2="379.80" y2="494.90" stroke="#4a4a4a" stroke-width="1.0" stroke-dasharray="3 2.55"/><line x1="242.30" y1="420.90" x2="242.30" y2="532.10" stroke="#333" stroke-width="0.9" /><line x1="242.30" y1="476.50" x2="379.60" y2="476.50" stroke="#333" stroke-width="0.9" /><line x1="240.10" y1="421.30" x2="242.30" y2="421.30" stroke="#333" stroke-width="0.8" /><text x="239.10" y="423.35" font-size="6.0" text-anchor="end" >30</text><line x1="240.10" y1="439.70" x2="242.30" y2="439.70" stroke="#333" stroke-width="0.8" /><text x="239.10" y="441.75" font-size="6.0" text-anchor="end" >20</text><line x1="240.10" y1="458.10" x2="242.30" y2="458.10" stroke="#333" stroke-width="0.8" /><text x="239.10" y="460.15" font-size="6.0" text-anchor="end" >10</text><line x1="240.10" y1="476.50" x2="242.30" y2="476.50" stroke="#333" stroke-width="0.8" /><text x="239.10" y="478.55" font-size="6.0" text-anchor="end" >0</text><line x1="240.10" y1="494.90" x2="242.30" y2="494.90" stroke="#333" stroke-width="0.8" /><text x="239.10" y="496.95" font-size="6.0" text-anchor="end" >-10</text><line x1="240.10" y1="513.30" x2="242.30" y2="513.30" stroke="#333" stroke-width="0.8" /><text x="239.10" y="515.35" font-size="6.0" text-anchor="end" >-20</text><line x1="240.10" y1="531.70" x2="242.30" y2="531.70" stroke="#333" stroke-width="0.8" /><text x="239.10" y="533.75" font-size="6.0" text-anchor="end" >-30</text><line x1="241.00" y1="430.50" x2="242.30" y2="430.50" stroke="#333" stroke-width="0.6" /><line x1="241.00" y1="448.90" x2="242.30" y2="448.90" stroke="#333" stroke-width="0.6" /><line x1="241.00" y1="467.30" x2="242.30" y2="467.30" stroke="#333" stroke-width="0.6" /><line x1="241.00" y1="485.70" x2="242.30" y2="485.70" stroke="#333" stroke-width="0.6" /><line x1="241.00" y1="504.10" x2="242.30" y2="504.10" stroke="#333" stroke-width="0.6" /><line x1="241.00" y1="522.50" x2="242.30" y2="522.50" stroke="#333" stroke-width="0.6" /><line x1="251.80" y1="476.50" x2="251.80" y2="478.70" stroke="#333" stroke-width="0.8" /><text x="251.80" y="484.60" font-size="6.0" text-anchor="middle" >10</text><line x1="270.00" y1="476.50" x2="270.00" y2="478.70" stroke="#333" stroke-width="0.8" /><text x="270.00" y="484.60" font-size="6.0" text-anchor="middle" >20</text><line x1="288.20" y1="476.50" x2="288.20" y2="478.70" stroke="#333" stroke-width="0.8" /><text x="288.20" y="484.60" font-size="6.0" text-anchor="middle" >30</text><line x1="306.40" y1="476.50" x2="306.40" y2="478.70" stroke="#333" stroke-width="0.8" /><text x="306.40" y="484.60" font-size="6.0" text-anchor="middle" >40</text><line x1="324.60" y1="476.50" x2="324.60" y2="478.70" stroke="#333" stroke-width="0.8" /><text x="324.60" y="484.60" font-size="6.0" text-anchor="middle" >50</text><line x1="342.80" y1="476.50" x2="342.80" y2="478.70" stroke="#333" stroke-width="0.8" /><text x="342.80" y="484.60" font-size="6.0" text-anchor="middle" >60</text><line x1="361.00" y1="476.50" x2="361.00" y2="478.70" stroke="#333" stroke-width="0.8" /><text x="361.00" y="484.60" font-size="6.0" text-anchor="middle" >70</text><line x1="379.20" y1="476.50" x2="379.20" y2="478.70" stroke="#333" stroke-width="0.8" /><text x="379.20" y="484.60" font-size="6.0" text-anchor="middle" >80</text><line x1="260.90" y1="476.50" x2="260.90" y2="477.80" stroke="#333" stroke-width="0.6" /><line x1="279.10" y1="476.50" x2="279.10" y2="477.80" stroke="#333" stroke-width="0.6" /><line x1="297.30" y1="476.50" x2="297.30" y2="477.80" stroke="#333" stroke-width="0.6" /><line x1="315.50" y1="476.50" x2="315.50" y2="477.80" stroke="#333" stroke-width="0.6" /><line x1="333.70" y1="476.50" x2="333.70" y2="477.80" stroke="#333" stroke-width="0.6" /><line x1="351.90" y1="476.50" x2="351.90" y2="477.80" stroke="#333" stroke-width="0.6" /><line x1="370.10" y1="476.50" x2="370.10" y2="477.80" stroke="#333" stroke-width="0.6" /><path fill="#0000ff" d="M257.6 473.7h2.8v2.8h-2.8zM271.6 475.0h2.8v2.8h-2.8zM279.1 475.0h2.8v2.8h-2.8zM282.9 475.6h2.8v2.8h-2.8zM285.4 475.6h2.8v2.8h-2.8zM288.5 472.1h2.8v2.8h-2.8zM266.0 486.8h2.8v2.8h-2.8zM264.1 488.6h2.8v2.8h-2.8zM271.6 483.6h2.8v2.8h-2.8zM270.4 488.0h2.8v2.8h-2.8zM275.4 480.0h2.8v2.8h-2.8zM279.1 481.8h2.8v2.8h-2.8zM281.6 483.6h2.8v2.8h-2.8zM284.7 482.4h2.8v2.8h-2.8zM277.9 475.6h2.8v2.8h-2.8zM279.7 476.8h2.8v2.8h-2.8zM285.4 476.8h2.8v2.8h-2.8zM288.5 478.7h2.8v2.8h-2.8zM289.1 485.5h2.8v2.8h-2.8zM290.4 488.0h2.8v2.8h-2.8zM279.1 488.6h2.8v2.8h-2.8zM274.1 489.2h2.8v2.8h-2.8zM284.1 489.9h2.8v2.8h-2.8zM286.6 491.7h2.8v2.8h-2.8zM266.6 493.0h2.8v2.8h-2.8zM277.2 494.9h2.8v2.8h-2.8zM277.2 496.7h2.8v2.8h-2.8zM276.6 499.8h2.8v2.8h-2.8zM281.0 499.8h2.8v2.8h-2.8zM289.7 497.3h2.8v2.8h-2.8zM272.9 475.0h2.8v2.8h-2.8zM268.5 482.4h2.8v2.8h-2.8zM266.0 480.6h2.8v2.8h-2.8zM299.4 460.5h2.8v2.8h-2.8zM299.7 462.2h2.8v2.8h-2.8zM301.6 467.9h2.8v2.8h-2.8zM319.7 467.6h2.8v2.8h-2.8zM311.6 472.7h2.8v2.8h-2.8zM307.2 474.4h2.8v2.8h-2.8zM325.4 471.2h2.8v2.8h-2.8zM332.9 470.4h2.8v2.8h-2.8zM323.5 475.0h2.8v2.8h-2.8zM292.9 469.4h2.8v2.8h-2.8zM294.7 470.6h2.8v2.8h-2.8zM297.2 475.0h2.8v2.8h-2.8zM303.5 473.1h2.8v2.8h-2.8zM343.4 472.5h2.8v2.8h-2.8zM351.4 466.6h2.8v2.8h-2.8zM352.6 472.5h2.8v2.8h-2.8zM291.5 479.5h2.8v2.8h-2.8zM296.5 478.2h2.8v2.8h-2.8zM297.1 479.5h2.8v2.8h-2.8zM303.4 478.8h2.8v2.8h-2.8zM308.4 480.1h2.8v2.8h-2.8zM314.6 483.1h2.8v2.8h-2.8zM318.4 484.4h2.8v2.8h-2.8zM319.6 480.1h2.8v2.8h-2.8zM323.4 475.1h2.8v2.8h-2.8zM322.7 488.8h2.8v2.8h-2.8zM326.5 491.0h2.8v2.8h-2.8zM307.7 490.0h2.8v2.8h-2.8zM290.9 489.4h2.8v2.8h-2.8zM293.4 490.0h2.8v2.8h-2.8zM295.9 490.6h2.8v2.8h-2.8zM299.0 491.2h2.8v2.8h-2.8zM293.4 495.0h2.8v2.8h-2.8zM290.9 497.4h2.8v2.8h-2.8zM297.1 497.4h2.8v2.8h-2.8zM308.4 496.2h2.8v2.8h-2.8zM315.2 495.0h2.8v2.8h-2.8zM316.5 498.0h2.8v2.8h-2.8zM320.2 497.4h2.8v2.8h-2.8zM317.1 493.1h2.8v2.8h-2.8zM294.0 499.3h2.8v2.8h-2.8zM345.5 490.6h2.8v2.8h-2.8zM283.1 477.4h2.8v2.8h-2.8zM285.4 476.0h2.8v2.8h-2.8zM270.4 488.6h2.8v2.8h-2.8zM278.2 480.0h2.8v2.8h-2.8zM281.8 478.9h2.8v2.8h-2.8zM288.2 488.1h2.8v2.8h-2.8zM267.1 481.3h2.8v2.8h-2.8zM307.0 474.1h2.8v2.8h-2.8zM294.0 490.0h2.8v2.8h-2.8zM292.4 497.1h2.8v2.8h-2.8zM250.5 474.4h2.8v2.8h-2.8zM257.5 475.0h2.8v2.8h-2.8zM263.9 474.4h2.8v2.8h-2.8zM275.4 472.9h2.8v2.8h-2.8zM277.2 472.9h2.8v2.8h-2.8zM272.2 474.4h2.8v2.8h-2.8zM254.4 483.9h2.8v2.8h-2.8zM260.2 484.3h2.8v2.8h-2.8zM260.2 479.3h2.8v2.8h-2.8zM263.4 480.5h2.8v2.8h-2.8zM266.2 479.3h2.8v2.8h-2.8zM266.2 484.3h2.8v2.8h-2.8zM266.4 486.2h2.8v2.8h-2.8zM269.4 482.2h2.8v2.8h-2.8zM269.9 483.7h2.8v2.8h-2.8zM272.6 483.7h2.8v2.8h-2.8zM274.9 479.3h2.8v2.8h-2.8zM277.2 487.4h2.8v2.8h-2.8zM268.3 494.3h2.8v2.8h-2.8zM273.5 496.2h2.8v2.8h-2.8zM274.3 505.5h2.8v2.8h-2.8zM271.7 476.2h2.8v2.8h-2.8zM264.3 475.5h2.8v2.8h-2.8zM306.8 444.4h2.8v2.8h-2.8zM286.0 463.4h2.8v2.8h-2.8zM285.1 466.9h2.8v2.8h-2.8zM280.5 466.3h2.8v2.8h-2.8zM291.6 468.4h2.8v2.8h-2.8zM301.7 464.2h2.8v2.8h-2.8zM305.2 463.8h2.8v2.8h-2.8zM278.7 470.7h2.8v2.8h-2.8zM279.6 471.9h2.8v2.8h-2.8zM302.1 472.5h2.8v2.8h-2.8zM295.2 474.2h2.8v2.8h-2.8zM306.3 471.3h2.8v2.8h-2.8zM312.3 470.9h2.8v2.8h-2.8zM285.1 477.4h2.8v2.8h-2.8zM287.0 476.8h2.8v2.8h-2.8zM285.6 482.4h2.8v2.8h-2.8zM281.0 481.8h2.8v2.8h-2.8zM278.7 480.5h2.8v2.8h-2.8zM291.1 482.4h2.8v2.8h-2.8zM292.9 484.3h2.8v2.8h-2.8zM290.2 485.5h2.8v2.8h-2.8zM287.4 487.2h2.8v2.8h-2.8zM282.8 486.2h2.8v2.8h-2.8zM295.7 478.0h2.8v2.8h-2.8zM294.3 480.5h2.8v2.8h-2.8zM299.8 478.4h2.8v2.8h-2.8zM299.4 484.7h2.8v2.8h-2.8zM304.4 479.3h2.8v2.8h-2.8zM304.9 484.3h2.8v2.8h-2.8zM297.1 487.7h2.8v2.8h-2.8zM293.9 490.5h2.8v2.8h-2.8zM294.8 494.9h2.8v2.8h-2.8zM292.0 498.0h2.8v2.8h-2.8zM280.0 490.9h2.8v2.8h-2.8zM282.8 491.8h2.8v2.8h-2.8zM277.3 495.9h2.8v2.8h-2.8zM279.6 494.9h2.8v2.8h-2.8zM303.5 492.2h2.8v2.8h-2.8zM305.4 491.2h2.8v2.8h-2.8zM307.2 498.0h2.8v2.8h-2.8zM304.0 502.7h2.8v2.8h-2.8zM308.1 502.7h2.8v2.8h-2.8zM292.0 503.4h2.8v2.8h-2.8zM296.2 474.7h2.8v2.8h-2.8zM308.1 473.9h2.8v2.8h-2.8zM315.0 457.9h2.8v2.8h-2.8zM321.7 462.9h2.8v2.8h-2.8zM329.7 466.3h2.8v2.8h-2.8zM312.9 470.7h2.8v2.8h-2.8zM324.5 474.2h2.8v2.8h-2.8zM319.6 482.5h2.8v2.8h-2.8zM324.0 483.8h2.8v2.8h-2.8zM322.3 491.3h2.8v2.8h-2.8zM322.3 495.4h2.8v2.8h-2.8zM276.0 473.7h2.8v2.8h-2.8zM265.3 477.7h2.8v2.8h-2.8zM266.9 482.7h2.8v2.8h-2.8zM269.2 483.3h2.8v2.8h-2.8zM284.8 480.8h2.8v2.8h-2.8zM280.1 455.1h2.8v2.8h-2.8zM277.4 461.4h2.8v2.8h-2.8zM271.4 465.8h2.8v2.8h-2.8zM273.9 465.8h2.8v2.8h-2.8zM263.4 467.4h2.8v2.8h-2.8zM260.7 469.2h2.8v2.8h-2.8zM278.7 466.6h2.8v2.8h-2.8zM272.9 472.9h2.8v2.8h-2.8zM272.4 475.0h2.8v2.8h-2.8zM251.0 476.1h2.8v2.8h-2.8zM259.4 475.4h2.8v2.8h-2.8zM262.9 476.6h2.8v2.8h-2.8zM267.1 476.6h2.8v2.8h-2.8zM273.9 471.8h2.8v2.8h-2.8zM251.4 481.5h2.8v2.8h-2.8zM253.9 485.5h2.8v2.8h-2.8zM253.4 487.8h2.8v2.8h-2.8zM251.4 489.9h2.8v2.8h-2.8zM257.7 478.6h2.8v2.8h-2.8zM260.5 478.6h2.8v2.8h-2.8zM260.9 482.3h2.8v2.8h-2.8zM259.3 487.6h2.8v2.8h-2.8zM268.1 482.1h2.8v2.8h-2.8zM270.9 478.6h2.8v2.8h-2.8zM273.9 481.5h2.8v2.8h-2.8zM276.4 483.2h2.8v2.8h-2.8zM278.9 479.2h2.8v2.8h-2.8zM269.9 485.5h2.8v2.8h-2.8zM267.9 487.8h2.8v2.8h-2.8zM270.4 488.4h2.8v2.8h-2.8zM277.4 488.9h2.8v2.8h-2.8zM278.9 487.2h2.8v2.8h-2.8zM271.9 491.0h2.8v2.8h-2.8zM272.9 490.1h2.8v2.8h-2.8zM265.4 492.6h2.8v2.8h-2.8zM271.4 494.1h2.8v2.8h-2.8zM272.9 495.3h2.8v2.8h-2.8zM268.7 497.6h2.8v2.8h-2.8zM278.4 495.8h2.8v2.8h-2.8zM277.4 490.7h2.8v2.8h-2.8zM280.3 455.1h2.8v2.8h-2.8zM280.8 460.5h2.8v2.8h-2.8zM289.0 460.3h2.8v2.8h-2.8zM291.7 461.4h2.8v2.8h-2.8zM296.4 460.9h2.8v2.8h-2.8zM300.2 455.9h2.8v2.8h-2.8zM302.4 464.9h2.8v2.8h-2.8zM314.0 466.6h2.8v2.8h-2.8zM283.7 466.6h2.8v2.8h-2.8zM279.8 467.2h2.8v2.8h-2.8zM285.3 470.8h2.8v2.8h-2.8zM291.0 470.1h2.8v2.8h-2.8zM293.0 471.2h2.8v2.8h-2.8zM291.2 473.4h2.8v2.8h-2.8zM282.8 474.6h2.8v2.8h-2.8zM282.3 481.2h2.8v2.8h-2.8zM283.7 482.4h2.8v2.8h-2.8zM281.7 481.8h2.8v2.8h-2.8zM288.8 483.5h2.8v2.8h-2.8zM290.2 484.7h2.8v2.8h-2.8zM291.7 484.7h2.8v2.8h-2.8zM279.8 485.8h2.8v2.8h-2.8zM293.7 488.9h2.8v2.8h-2.8zM284.8 494.4h2.8v2.8h-2.8zM288.8 494.4h2.8v2.8h-2.8zM291.2 493.5h2.8v2.8h-2.8zM290.2 496.2h2.8v2.8h-2.8zM289.2 498.5h2.8v2.8h-2.8zM289.7 499.6h2.8v2.8h-2.8zM291.0 497.3h2.8v2.8h-2.8zM301.4 495.4h2.8v2.8h-2.8zM305.0 477.9h2.8v2.8h-2.8zM308.4 477.9h2.8v2.8h-2.8zM305.7 488.5h2.8v2.8h-2.8zM307.2 491.9h2.8v2.8h-2.8zM305.7 495.0h2.8v2.8h-2.8zM306.2 498.8h2.8v2.8h-2.8zM310.7 495.0h2.8v2.8h-2.8zM311.7 489.3h2.8v2.8h-2.8zM314.2 495.0h2.8v2.8h-2.8zM311.4 499.9h2.8v2.8h-2.8zM315.0 480.9h2.8v2.8h-2.8zM318.7 485.8h2.8v2.8h-2.8zM342.6 458.9h2.8v2.8h-2.8zM335.7 472.4h2.8v2.8h-2.8zM271.7 477.3h2.8v2.8h-2.8zM271.8 489.1h2.8v2.8h-2.8zM271.3 491.8h2.8v2.8h-2.8zM272.1 489.0h2.8v2.8h-2.8zM283.8 481.3h2.8v2.8h-2.8zM281.6 481.5h2.8v2.8h-2.8zM280.0 485.3h2.8v2.8h-2.8zM290.5 500.5h2.8v2.8h-2.8zM291.3 497.6h2.8v2.8h-2.8zM289.9 499.1h2.8v2.8h-2.8zM265.1 488.2h2.8v2.8h-2.8zM271.1 485.3h2.8v2.8h-2.8zM275.9 483.5h2.8v2.8h-2.8zM293.4 472.3h2.8v2.8h-2.8zM277.0 475.6h2.8v2.8h-2.8zM271.3 483.4h2.8v2.8h-2.8zM271.2 474.4h2.8v2.8h-2.8zM271.8 492.9h2.8v2.8h-2.8zM277.4 477.5h2.8v2.8h-2.8zM283.5 473.2h2.8v2.8h-2.8zM278.6 486.6h2.8v2.8h-2.8zM278.6 479.1h2.8v2.8h-2.8z"/><path fill="#ff0000" d="M291.8 457.1l1.75 3.15h-3.50zM287.4 465.4l1.75 3.15h-3.50zM291.1 466.1l1.75 3.15h-3.50zM279.9 467.8l1.75 3.15h-3.50zM274.2 468.2l1.75 3.15h-3.50zM273.0 470.1l1.75 3.15h-3.50zM276.8 470.1l1.75 3.15h-3.50zM283.0 470.7l1.75 3.15h-3.50zM286.1 470.1l1.75 3.15h-3.50zM268.0 473.2l1.75 3.15h-3.50zM271.1 473.2l1.75 3.15h-3.50zM269.9 474.4l1.75 3.15h-3.50zM275.5 473.8l1.75 3.15h-3.50zM288.6 468.2l1.75 3.15h-3.50zM292.4 471.3l1.75 3.15h-3.50zM259.0 488.9l1.75 3.15h-3.50zM264.9 479.4l1.75 3.15h-3.50zM266.8 481.9l1.75 3.15h-3.50zM268.6 478.8l1.75 3.15h-3.50zM269.9 476.3l1.75 3.15h-3.50zM271.8 475.0l1.75 3.15h-3.50zM273.0 478.1l1.75 3.15h-3.50zM275.5 476.3l1.75 3.15h-3.50zM274.2 485.0l1.75 3.15h-3.50zM276.8 484.4l1.75 3.15h-3.50zM278.0 488.7l1.75 3.15h-3.50zM279.9 487.5l1.75 3.15h-3.50zM281.8 485.0l1.75 3.15h-3.50zM283.0 486.9l1.75 3.15h-3.50zM285.5 486.2l1.75 3.15h-3.50zM287.4 488.0l1.75 3.15h-3.50zM284.2 475.0l1.75 3.15h-3.50zM286.1 478.8l1.75 3.15h-3.50zM289.2 480.0l1.75 3.15h-3.50zM291.1 481.2l1.75 3.15h-3.50zM288.0 484.4l1.75 3.15h-3.50zM290.5 473.2l1.75 3.15h-3.50zM268.0 490.5l1.75 3.15h-3.50zM277.4 491.8l1.75 3.15h-3.50zM291.8 493.0l1.75 3.15h-3.50zM289.9 496.1l1.75 3.15h-3.50zM287.4 498.0l1.75 3.15h-3.50zM287.4 501.7l1.75 3.15h-3.50zM277.4 499.3l1.75 3.15h-3.50zM281.8 489.9l1.75 3.15h-3.50zM305.2 427.3l1.75 3.15h-3.50zM294.9 446.7l1.75 3.15h-3.50zM301.1 449.2l1.75 3.15h-3.50zM309.9 449.0l1.75 3.15h-3.50zM301.5 455.2l1.75 3.15h-3.50zM295.5 457.4l1.75 3.15h-3.50zM309.2 457.9l1.75 3.15h-3.50zM298.0 461.6l1.75 3.15h-3.50zM304.9 462.4l1.75 3.15h-3.50zM298.6 464.5l1.75 3.15h-3.50zM293.6 465.1l1.75 3.15h-3.50zM310.5 464.9l1.75 3.15h-3.50zM319.9 463.6l1.75 3.15h-3.50zM326.5 465.5l1.75 3.15h-3.50zM296.8 467.6l1.75 3.15h-3.50zM299.2 468.2l1.75 3.15h-3.50zM308.6 468.8l1.75 3.15h-3.50zM314.9 468.2l1.75 3.15h-3.50zM318.0 468.8l1.75 3.15h-3.50zM324.9 471.1l1.75 3.15h-3.50zM304.9 472.0l1.75 3.15h-3.50zM298.0 472.6l1.75 3.15h-3.50zM306.1 474.4l1.75 3.15h-3.50zM334.2 476.0l1.75 3.15h-3.50zM300.5 474.8l1.75 3.15h-3.50zM344.8 450.0l1.75 3.15h-3.50zM354.0 451.2l1.75 3.15h-3.50zM352.5 457.7l1.75 3.15h-3.50zM293.5 477.0l1.75 3.15h-3.50zM298.5 474.5l1.75 3.15h-3.50zM306.0 474.5l1.75 3.15h-3.50zM315.4 477.6l1.75 3.15h-3.50zM320.4 477.6l1.75 3.15h-3.50zM302.9 480.8l1.75 3.15h-3.50zM312.9 482.6l1.75 3.15h-3.50zM317.9 480.1l1.75 3.15h-3.50zM324.1 483.0l1.75 3.15h-3.50zM316.0 484.7l1.75 3.15h-3.50zM299.1 483.5l1.75 3.15h-3.50zM291.6 482.0l1.75 3.15h-3.50zM292.2 484.5l1.75 3.15h-3.50zM294.8 487.0l1.75 3.15h-3.50zM300.4 491.3l1.75 3.15h-3.50zM291.6 493.2l1.75 3.15h-3.50zM309.8 494.4l1.75 3.15h-3.50zM321.0 490.7l1.75 3.15h-3.50zM318.5 496.3l1.75 3.15h-3.50zM301.0 495.6l1.75 3.15h-3.50zM297.9 496.9l1.75 3.15h-3.50zM296.0 500.0l1.75 3.15h-3.50zM316.6 500.6l1.75 3.15h-3.50zM328.1 512.8l1.75 3.15h-3.50zM346.9 487.0l1.75 3.15h-3.50zM291.9 466.7l1.75 3.15h-3.50zM273.0 469.5l1.75 3.15h-3.50zM276.8 468.9l1.75 3.15h-3.50zM285.5 470.5l1.75 3.15h-3.50zM269.3 472.0l1.75 3.15h-3.50zM269.1 475.3l1.75 3.15h-3.50zM291.6 471.3l1.75 3.15h-3.50zM270.6 478.2l1.75 3.15h-3.50zM271.3 474.6l1.75 3.15h-3.50zM273.2 477.4l1.75 3.15h-3.50zM274.1 474.3l1.75 3.15h-3.50zM279.2 487.4l1.75 3.15h-3.50zM288.4 486.4l1.75 3.15h-3.50zM287.5 477.5l1.75 3.15h-3.50zM287.4 484.2l1.75 3.15h-3.50zM292.7 472.7l1.75 3.15h-3.50zM280.0 490.9l1.75 3.15h-3.50zM293.6 465.3l1.75 3.15h-3.50zM305.4 472.2l1.75 3.15h-3.50zM299.0 474.1l1.75 3.15h-3.50zM318.3 479.3l1.75 3.15h-3.50zM289.7 483.4l1.75 3.15h-3.50zM255.6 464.1l1.75 3.15h-3.50zM271.0 456.1l1.75 3.15h-3.50zM272.0 461.9l1.75 3.15h-3.50zM267.6 462.8l1.75 3.15h-3.50zM267.8 466.3l1.75 3.15h-3.50zM270.3 467.6l1.75 3.15h-3.50zM261.6 471.1l1.75 3.15h-3.50zM259.1 473.2l1.75 3.15h-3.50zM264.1 473.2l1.75 3.15h-3.50zM267.8 472.3l1.75 3.15h-3.50zM273.6 470.7l1.75 3.15h-3.50zM274.5 472.8l1.75 3.15h-3.50zM277.3 473.2l1.75 3.15h-3.50zM278.6 468.2l1.75 3.15h-3.50zM279.1 460.1l1.75 3.15h-3.50zM271.7 473.8l1.75 3.15h-3.50zM251.9 477.4l1.75 3.15h-3.50zM261.6 476.6l1.75 3.15h-3.50zM264.4 476.6l1.75 3.15h-3.50zM264.8 480.3l1.75 3.15h-3.50zM267.6 479.6l1.75 3.15h-3.50zM269.4 477.4l1.75 3.15h-3.50zM270.3 480.6l1.75 3.15h-3.50zM272.2 478.1l1.75 3.15h-3.50zM274.5 477.4l1.75 3.15h-3.50zM275.4 480.6l1.75 3.15h-3.50zM277.3 476.8l1.75 3.15h-3.50zM277.7 480.6l1.75 3.15h-3.50zM270.3 483.1l1.75 3.15h-3.50zM275.1 490.6l1.75 3.15h-3.50zM271.3 474.3l1.75 3.15h-3.50zM274.0 473.7l1.75 3.15h-3.50zM276.3 473.7l1.75 3.15h-3.50zM273.1 472.4l1.75 3.15h-3.50zM308.4 445.1l1.75 3.15h-3.50zM293.7 450.7l1.75 3.15h-3.50zM293.7 452.8l1.75 3.15h-3.50zM296.2 454.4l1.75 3.15h-3.50zM292.5 456.1l1.75 3.15h-3.50zM295.5 458.2l1.75 3.15h-3.50zM300.8 457.3l1.75 3.15h-3.50zM305.1 457.6l1.75 3.15h-3.50zM303.5 461.3l1.75 3.15h-3.50zM279.6 460.1l1.75 3.15h-3.50zM283.9 461.1l1.75 3.15h-3.50zM291.6 460.7l1.75 3.15h-3.50zM292.8 461.6l1.75 3.15h-3.50zM280.1 465.1l1.75 3.15h-3.50zM281.4 466.9l1.75 3.15h-3.50zM284.2 469.4l1.75 3.15h-3.50zM286.5 470.1l1.75 3.15h-3.50zM288.4 469.8l1.75 3.15h-3.50zM294.8 471.1l1.75 3.15h-3.50zM288.8 472.3l1.75 3.15h-3.50zM308.2 467.8l1.75 3.15h-3.50zM309.0 472.3l1.75 3.15h-3.50zM282.4 471.9l1.75 3.15h-3.50zM286.1 471.3l1.75 3.15h-3.50zM278.7 480.6l1.75 3.15h-3.50zM281.4 483.1l1.75 3.15h-3.50zM283.3 486.2l1.75 3.15h-3.50zM279.2 487.4l1.75 3.15h-3.50zM282.4 477.4l1.75 3.15h-3.50zM287.0 480.3l1.75 3.15h-3.50zM288.8 481.2l1.75 3.15h-3.50zM289.8 476.6l1.75 3.15h-3.50zM301.2 474.1l1.75 3.15h-3.50zM306.8 475.3l1.75 3.15h-3.50zM295.3 485.6l1.75 3.15h-3.50zM297.1 487.8l1.75 3.15h-3.50zM297.1 491.6l1.75 3.15h-3.50zM303.1 484.3l1.75 3.15h-3.50zM303.3 487.4l1.75 3.15h-3.50zM304.0 494.9l1.75 3.15h-3.50zM305.6 497.8l1.75 3.15h-3.50zM308.6 494.9l1.75 3.15h-3.50zM309.0 494.1l1.75 3.15h-3.50zM308.2 501.6l1.75 3.15h-3.50zM306.6 505.6l1.75 3.15h-3.50zM298.3 497.8l1.75 3.15h-3.50zM287.0 498.3l1.75 3.15h-3.50zM287.4 502.1l1.75 3.15h-3.50zM281.4 498.7l1.75 3.15h-3.50zM282.4 498.3l1.75 3.15h-3.50zM321.0 434.4l1.75 3.15h-3.50zM331.1 454.4l1.75 3.15h-3.50zM325.3 457.3l1.75 3.15h-3.50zM323.7 462.6l1.75 3.15h-3.50zM323.6 467.3l1.75 3.15h-3.50zM325.9 469.1l1.75 3.15h-3.50zM314.6 471.6l1.75 3.15h-3.50zM323.1 482.8l1.75 3.15h-3.50zM316.4 493.2l1.75 3.15h-3.50zM274.8 472.5l1.75 3.15h-3.50zM270.7 473.6l1.75 3.15h-3.50zM261.4 474.5l1.75 3.15h-3.50zM265.1 476.3l1.75 3.15h-3.50zM268.9 481.8l1.75 3.15h-3.50zM278.5 480.0l1.75 3.15h-3.50zM272.7 473.6l1.75 3.15h-3.50zM291.4 455.3l1.75 3.15h-3.50zM278.8 463.3l1.75 3.15h-3.50zM280.7 467.3l1.75 3.15h-3.50zM286.1 469.2l1.75 3.15h-3.50zM289.3 470.1l1.75 3.15h-3.50zM287.5 473.6l1.75 3.15h-3.50zM278.9 482.4l1.75 3.15h-3.50zM278.5 443.9l1.75 3.15h-3.50zM279.3 446.0l1.75 3.15h-3.50zM275.8 450.6l1.75 3.15h-3.50zM278.8 452.9l1.75 3.15h-3.50zM272.8 453.8l1.75 3.15h-3.50zM274.1 455.2l1.75 3.15h-3.50zM272.3 457.7l1.75 3.15h-3.50zM260.8 456.1l1.75 3.15h-3.50zM264.8 458.4l1.75 3.15h-3.50zM268.1 457.4l1.75 3.15h-3.50zM275.3 458.4l1.75 3.15h-3.50zM274.3 461.8l1.75 3.15h-3.50zM275.8 460.3l1.75 3.15h-3.50zM269.8 463.2l1.75 3.15h-3.50zM266.8 464.6l1.75 3.15h-3.50zM260.3 464.6l1.75 3.15h-3.50zM262.3 465.5l1.75 3.15h-3.50zM274.1 465.5l1.75 3.15h-3.50zM274.3 468.9l1.75 3.15h-3.50zM281.3 466.6l1.75 3.15h-3.50zM281.1 462.0l1.75 3.15h-3.50zM279.8 470.1l1.75 3.15h-3.50zM271.8 470.6l1.75 3.15h-3.50zM272.3 471.8l1.75 3.15h-3.50zM258.8 472.3l1.75 3.15h-3.50zM262.3 474.1l1.75 3.15h-3.50zM264.5 474.1l1.75 3.15h-3.50zM267.3 474.1l1.75 3.15h-3.50zM269.3 473.5l1.75 3.15h-3.50zM277.8 475.8l1.75 3.15h-3.50zM254.8 476.0l1.75 3.15h-3.50zM254.8 476.9l1.75 3.15h-3.50zM255.3 480.4l1.75 3.15h-3.50zM252.4 481.5l1.75 3.15h-3.50zM252.4 483.8l1.75 3.15h-3.50zM250.8 486.7l1.75 3.15h-3.50zM280.8 480.4l1.75 3.15h-3.50zM274.3 479.5l1.75 3.15h-3.50zM275.3 483.8l1.75 3.15h-3.50zM278.3 485.0l1.75 3.15h-3.50zM280.8 487.2l1.75 3.15h-3.50zM268.3 486.1l1.75 3.15h-3.50zM270.3 493.0l1.75 3.15h-3.50zM270.8 495.3l1.75 3.15h-3.50zM273.3 493.0l1.75 3.15h-3.50zM272.8 500.4l1.75 3.15h-3.50zM272.3 472.9l1.75 3.15h-3.50zM292.4 441.2l1.75 3.15h-3.50zM291.4 445.1l1.75 3.15h-3.50zM292.8 445.1l1.75 3.15h-3.50zM293.4 449.2l1.75 3.15h-3.50zM295.1 451.5l1.75 3.15h-3.50zM302.8 442.5l1.75 3.15h-3.50zM307.4 446.2l1.75 3.15h-3.50zM313.1 444.6l1.75 3.15h-3.50zM307.1 452.6l1.75 3.15h-3.50zM290.6 453.5l1.75 3.15h-3.50zM291.6 454.6l1.75 3.15h-3.50zM285.1 455.2l1.75 3.15h-3.50zM282.2 456.5l1.75 3.15h-3.50zM290.6 457.2l1.75 3.15h-3.50zM293.1 460.0l1.75 3.15h-3.50zM303.8 460.7l1.75 3.15h-3.50zM315.4 459.7l1.75 3.15h-3.50zM315.4 464.6l1.75 3.15h-3.50zM286.7 462.0l1.75 3.15h-3.50zM284.7 461.8l1.75 3.15h-3.50zM281.2 462.0l1.75 3.15h-3.50zM297.6 465.5l1.75 3.15h-3.50zM290.2 466.4l1.75 3.15h-3.50zM282.7 466.0l1.75 3.15h-3.50zM285.7 467.2l1.75 3.15h-3.50zM283.7 467.8l1.75 3.15h-3.50zM284.7 469.8l1.75 3.15h-3.50zM293.1 471.8l1.75 3.15h-3.50zM294.2 473.5l1.75 3.15h-3.50zM309.6 474.1l1.75 3.15h-3.50zM281.2 480.7l1.75 3.15h-3.50zM281.2 487.6l1.75 3.15h-3.50zM281.7 490.2l1.75 3.15h-3.50zM285.7 487.9l1.75 3.15h-3.50zM301.6 500.8l1.75 3.15h-3.50zM306.1 478.4l1.75 3.15h-3.50zM307.1 489.5l1.75 3.15h-3.50zM313.1 491.4l1.75 3.15h-3.50zM312.1 501.3l1.75 3.15h-3.50zM316.1 484.5l1.75 3.15h-3.50zM320.1 487.6l1.75 3.15h-3.50zM344.0 465.6l1.75 3.15h-3.50zM324.2 474.5l1.75 3.15h-3.50zM274.3 455.2l1.75 3.15h-3.50zM275.4 455.7l1.75 3.15h-3.50zM273.9 456.7l1.75 3.15h-3.50zM275.0 458.7l1.75 3.15h-3.50zM274.9 463.1l1.75 3.15h-3.50zM280.6 461.9l1.75 3.15h-3.50zM273.5 471.2l1.75 3.15h-3.50zM272.6 471.5l1.75 3.15h-3.50zM268.1 473.3l1.75 3.15h-3.50zM255.6 480.4l1.75 3.15h-3.50zM253.7 479.7l1.75 3.15h-3.50zM279.4 483.8l1.75 3.15h-3.50zM272.5 472.6l1.75 3.15h-3.50zM293.5 449.1l1.75 3.15h-3.50zM291.8 452.6l1.75 3.15h-3.50zM284.3 463.1l1.75 3.15h-3.50zM282.6 464.9l1.75 3.15h-3.50zM282.1 466.3l1.75 3.15h-3.50zM285.3 471.4l1.75 3.15h-3.50zM273.6 479.3l1.75 3.15h-3.50zM280.6 481.1l1.75 3.15h-3.50zM278.4 472.5l1.75 3.15h-3.50zM269.0 483.2l1.75 3.15h-3.50zM259.7 473.6l1.75 3.15h-3.50zM269.6 477.5l1.75 3.15h-3.50zM273.8 474.3l1.75 3.15h-3.50zM284.3 473.7l1.75 3.15h-3.50zM268.8 482.9l1.75 3.15h-3.50zM284.8 484.3l1.75 3.15h-3.50zM282.3 472.6l1.75 3.15h-3.50zM287.3 474.6l1.75 3.15h-3.50zM279.4 470.4l1.75 3.15h-3.50zM272.8 479.8l1.75 3.15h-3.50zM283.4 477.2l1.75 3.15h-3.50zM287.9 476.6l1.75 3.15h-3.50zM261.3 480.1l1.75 3.15h-3.50zM260.7 466.9l1.75 3.15h-3.50zM274.5 480.3l1.75 3.15h-3.50zM282.2 475.4l1.75 3.15h-3.50zM280.8 469.3l1.75 3.15h-3.50zM297.1 475.5l1.75 3.15h-3.50zM276.8 475.7l1.75 3.15h-3.50zM287.0 478.0l1.75 3.15h-3.50zM279.4 474.8l1.75 3.15h-3.50zM275.0 478.2l1.75 3.15h-3.50zM277.7 477.6l1.75 3.15h-3.50zM273.3 483.5l1.75 3.15h-3.50zM282.3 487.1l1.75 3.15h-3.50zM283.2 478.5l1.75 3.15h-3.50zM277.6 483.1l1.75 3.15h-3.50zM278.6 471.5l1.75 3.15h-3.50zM271.9 464.3l1.75 3.15h-3.50zM288.9 485.8l1.75 3.15h-3.50zM267.2 471.2l1.75 3.15h-3.50zM271.6 473.2l1.75 3.15h-3.50zM281.7 479.0l1.75 3.15h-3.50zM280.3 480.4l1.75 3.15h-3.50zM281.3 480.3l1.75 3.15h-3.50zM265.3 473.2l1.75 3.15h-3.50zM282.6 466.0l1.75 3.15h-3.50zM289.0 484.5l1.75 3.15h-3.50zM279.2 479.2l1.75 3.15h-3.50zM275.5 484.8l1.75 3.15h-3.50zM283.3 478.3l1.75 3.15h-3.50z"/><text x="0" y="0" font-size="6.60" text-anchor="middle" textLength="79.0" lengthAdjust="spacingAndGlyphs" transform="translate(228.4,476.25) rotate(-90)">Residual values of DBH (cm)</text><text x="310.60" y="541.80" font-size="7.1" text-anchor="middle" textLength="83" lengthAdjust="spacingAndGlyphs" >Measured values of DBH (cm)</text><text x="231.50" y="423.50" font-size="6.4" text-anchor="end" textLength="13.5" lengthAdjust="spacingAndGlyphs" >Total</text><path fill="#0000ff" d="M245.4 421.7h2.6v2.6h-2.6z"/><path fill="#ff0000" d="M246.8 429.3l1.55 2.79h-3.10z"/><text x="255.00" y="424.85" font-size="5.3" text-anchor="start" textLength="34.5" lengthAdjust="spacingAndGlyphs" >LSA-RANSAC</text><text x="255.00" y="432.85" font-size="5.3" text-anchor="start" textLength="21.7" lengthAdjust="spacingAndGlyphs" >RANSCA</text>
</svg></body></html>
